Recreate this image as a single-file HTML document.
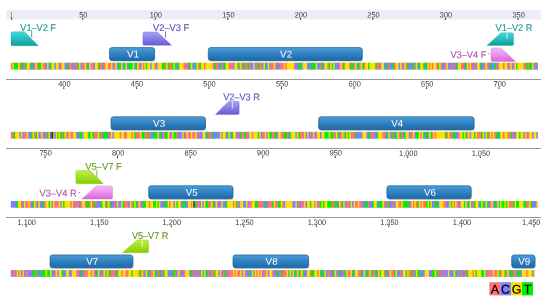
<!DOCTYPE html><html><head><meta charset="utf-8"><title>16S rRNA map</title><style>
html,body{margin:0;padding:0;background:#fff}body{width:550px;height:302px;overflow:hidden;position:relative;font-family:"Liberation Sans",sans-serif}
svg{position:absolute;left:0;top:0}text{font-family:"Liberation Sans",sans-serif;text-rendering:geometricPrecision}
.a{fill:#ff7373}.c{fill:#7f7fff}.g{fill:#ffe000}.t{fill:#00f000}.n{fill:#9a9a9a}
.r{font-size:7.9px;fill:#383838;text-anchor:middle}.f{font-size:9.8px;fill:#fff;text-anchor:middle}.p{font-size:9.7px;stroke-width:0.15px}
</style></head><body><svg width="550" height="302" viewBox="0 0 550 302">
<defs><linearGradient id="fb" x1="0" y1="0" x2="0" y2="1"><stop offset="0" stop-color="#4c9dd8"/><stop offset="0.5" stop-color="#3181c1"/><stop offset="1" stop-color="#1b69a6"/></linearGradient>
<linearGradient id="gt" x1="0" y1="0" x2="0" y2="1"><stop offset="0" stop-color="#44dada"/><stop offset="1" stop-color="#0c9e9e"/></linearGradient>
<linearGradient id="gp" x1="0" y1="0" x2="0" y2="1"><stop offset="0" stop-color="#a8a4f5"/><stop offset="1" stop-color="#665bd5"/></linearGradient>
<linearGradient id="gm" x1="0" y1="0" x2="0" y2="1"><stop offset="0" stop-color="#f6bcf6"/><stop offset="1" stop-color="#da68da"/></linearGradient>
<linearGradient id="gg" x1="0" y1="0" x2="0" y2="1"><stop offset="0" stop-color="#bcf04a"/><stop offset="1" stop-color="#88ce00"/></linearGradient>
<filter id="bl" x="-10%" y="-30%" width="120%" height="160%"><feGaussianBlur stdDeviation="0.7"/></filter></defs>
<rect x="6" y="10" width="535" height="9.5" fill="#ededf8"/>
<text class="r" x="11.2" y="17.4" textLength="4.1" lengthAdjust="spacingAndGlyphs" transform="rotate(0.03 11.6 17.4)" style="fill:#858585">1</text>
<rect x="11.1" y="18.1" width="1" height="1.8" fill="#2a2a2a"/>
<text class="r" x="83.3" y="17.4" textLength="8.2" lengthAdjust="spacingAndGlyphs" transform="rotate(0.03 82.7 17.4)">50</text>
<rect x="82.2" y="18.1" width="1" height="1.8" fill="#2a2a2a"/>
<text class="r" x="155.8" y="17.4" textLength="12.3" lengthAdjust="spacingAndGlyphs" transform="rotate(0.03 155.2 17.4)">100</text>
<rect x="154.7" y="18.1" width="1" height="1.8" fill="#2a2a2a"/>
<text class="r" x="228.4" y="17.4" textLength="12.3" lengthAdjust="spacingAndGlyphs" transform="rotate(0.03 227.8 17.4)">150</text>
<rect x="227.3" y="18.1" width="1" height="1.8" fill="#2a2a2a"/>
<text class="r" x="300.9" y="17.4" textLength="12.3" lengthAdjust="spacingAndGlyphs" transform="rotate(0.03 300.3 17.4)">200</text>
<rect x="299.8" y="18.1" width="1" height="1.8" fill="#2a2a2a"/>
<text class="r" x="373.5" y="17.4" textLength="12.3" lengthAdjust="spacingAndGlyphs" transform="rotate(0.03 372.9 17.4)">250</text>
<rect x="372.4" y="18.1" width="1" height="1.8" fill="#2a2a2a"/>
<text class="r" x="446.0" y="17.4" textLength="12.3" lengthAdjust="spacingAndGlyphs" transform="rotate(0.03 445.4 17.4)">300</text>
<rect x="444.9" y="18.1" width="1" height="1.8" fill="#2a2a2a"/>
<text class="r" x="518.6" y="17.4" textLength="12.3" lengthAdjust="spacingAndGlyphs" transform="rotate(0.03 518.0 17.4)">350</text>
<rect x="517.5" y="18.1" width="1" height="1.8" fill="#2a2a2a"/>
<rect class="a" x="10.80" y="62.8" width="2.95" height="6.7"/>
<rect class="g" x="12.25" y="62.8" width="2.95" height="6.7"/>
<rect class="t" x="13.70" y="62.8" width="5.86" height="6.7"/>
<rect class="g" x="18.06" y="62.8" width="2.95" height="6.7"/>
<rect class="a" x="19.51" y="62.8" width="2.95" height="6.7"/>
<rect class="t" x="20.96" y="62.8" width="2.95" height="6.7"/>
<rect class="c" x="22.42" y="62.8" width="2.95" height="6.7"/>
<rect class="a" x="23.87" y="62.8" width="2.95" height="6.7"/>
<rect class="t" x="25.32" y="62.8" width="2.95" height="6.7"/>
<rect class="g" x="26.77" y="62.8" width="4.40" height="6.7"/>
<rect class="c" x="29.68" y="62.8" width="2.95" height="6.7"/>
<rect class="t" x="31.13" y="62.8" width="2.95" height="6.7"/>
<rect class="c" x="32.58" y="62.8" width="2.95" height="6.7"/>
<rect class="a" x="34.03" y="62.8" width="2.95" height="6.7"/>
<rect class="g" x="35.48" y="62.8" width="2.95" height="6.7"/>
<rect class="a" x="36.94" y="62.8" width="2.95" height="6.7"/>
<rect class="t" x="38.39" y="62.8" width="4.40" height="6.7"/>
<rect class="g" x="41.29" y="62.8" width="2.95" height="6.7"/>
<rect class="a" x="42.74" y="62.8" width="4.40" height="6.7"/>
<rect class="c" x="45.65" y="62.8" width="2.95" height="6.7"/>
<rect class="g" x="47.10" y="62.8" width="2.95" height="6.7"/>
<rect class="c" x="48.55" y="62.8" width="2.95" height="6.7"/>
<rect class="t" x="50.00" y="62.8" width="2.95" height="6.7"/>
<rect class="g" x="51.46" y="62.8" width="4.40" height="6.7"/>
<rect class="c" x="54.36" y="62.8" width="2.95" height="6.7"/>
<rect class="g" x="55.81" y="62.8" width="4.40" height="6.7"/>
<rect class="c" x="58.72" y="62.8" width="2.95" height="6.7"/>
<rect class="a" x="60.17" y="62.8" width="2.95" height="6.7"/>
<rect class="g" x="61.62" y="62.8" width="4.40" height="6.7"/>
<rect class="c" x="64.52" y="62.8" width="4.40" height="6.7"/>
<rect class="t" x="67.43" y="62.8" width="2.95" height="6.7"/>
<rect class="a" x="68.88" y="62.8" width="4.40" height="6.7"/>
<rect class="c" x="71.78" y="62.8" width="2.95" height="6.7"/>
<rect class="a" x="73.24" y="62.8" width="2.95" height="6.7"/>
<rect class="c" x="74.69" y="62.8" width="2.95" height="6.7"/>
<rect class="a" x="76.14" y="62.8" width="2.95" height="6.7"/>
<rect class="t" x="77.59" y="62.8" width="2.95" height="6.7"/>
<rect class="g" x="79.04" y="62.8" width="2.95" height="6.7"/>
<rect class="c" x="80.50" y="62.8" width="2.95" height="6.7"/>
<rect class="a" x="81.95" y="62.8" width="4.40" height="6.7"/>
<rect class="g" x="84.85" y="62.8" width="2.95" height="6.7"/>
<rect class="t" x="86.30" y="62.8" width="2.95" height="6.7"/>
<rect class="c" x="87.76" y="62.8" width="2.95" height="6.7"/>
<rect class="g" x="89.21" y="62.8" width="2.95" height="6.7"/>
<rect class="a" x="90.66" y="62.8" width="4.40" height="6.7"/>
<rect class="c" x="93.56" y="62.8" width="2.95" height="6.7"/>
<rect class="g" x="95.02" y="62.8" width="4.40" height="6.7"/>
<rect class="t" x="97.92" y="62.8" width="2.95" height="6.7"/>
<rect class="a" x="99.37" y="62.8" width="4.40" height="6.7"/>
<rect class="c" x="102.28" y="62.8" width="2.95" height="6.7"/>
<rect class="a" x="103.73" y="62.8" width="2.95" height="6.7"/>
<rect class="g" x="105.18" y="62.8" width="4.40" height="6.7"/>
<rect class="a" x="108.08" y="62.8" width="4.40" height="6.7"/>
<rect class="g" x="110.99" y="62.8" width="2.95" height="6.7"/>
<rect class="c" x="112.44" y="62.8" width="2.95" height="6.7"/>
<rect class="a" x="113.89" y="62.8" width="2.95" height="6.7"/>
<rect class="g" x="115.34" y="62.8" width="2.95" height="6.7"/>
<rect class="c" x="116.80" y="62.8" width="2.95" height="6.7"/>
<rect class="t" x="118.25" y="62.8" width="4.40" height="6.7"/>
<rect class="g" x="121.15" y="62.8" width="2.95" height="6.7"/>
<rect class="c" x="122.60" y="62.8" width="2.95" height="6.7"/>
<rect class="t" x="124.06" y="62.8" width="2.95" height="6.7"/>
<rect class="g" x="125.51" y="62.8" width="2.95" height="6.7"/>
<rect class="c" x="126.96" y="62.8" width="2.95" height="6.7"/>
<rect class="t" x="128.41" y="62.8" width="5.86" height="6.7"/>
<rect class="g" x="132.77" y="62.8" width="2.95" height="6.7"/>
<rect class="c" x="134.22" y="62.8" width="2.95" height="6.7"/>
<rect class="t" x="135.67" y="62.8" width="2.95" height="6.7"/>
<rect class="g" x="137.12" y="62.8" width="2.95" height="6.7"/>
<rect class="a" x="138.58" y="62.8" width="2.95" height="6.7"/>
<rect class="c" x="140.03" y="62.8" width="2.95" height="6.7"/>
<rect class="g" x="141.48" y="62.8" width="2.95" height="6.7"/>
<rect class="a" x="142.93" y="62.8" width="2.95" height="6.7"/>
<rect class="g" x="144.38" y="62.8" width="2.95" height="6.7"/>
<rect class="t" x="145.84" y="62.8" width="2.95" height="6.7"/>
<rect class="g" x="147.29" y="62.8" width="4.40" height="6.7"/>
<rect class="c" x="150.19" y="62.8" width="2.95" height="6.7"/>
<rect class="g" x="151.64" y="62.8" width="4.40" height="6.7"/>
<rect class="a" x="154.55" y="62.8" width="2.95" height="6.7"/>
<rect class="c" x="156.00" y="62.8" width="2.95" height="6.7"/>
<rect class="g" x="157.45" y="62.8" width="5.86" height="6.7"/>
<rect class="t" x="161.81" y="62.8" width="4.40" height="6.7"/>
<rect class="a" x="164.71" y="62.8" width="2.95" height="6.7"/>
<rect class="g" x="166.16" y="62.8" width="2.95" height="6.7"/>
<rect class="t" x="167.62" y="62.8" width="2.95" height="6.7"/>
<rect class="a" x="169.07" y="62.8" width="4.40" height="6.7"/>
<rect class="t" x="171.97" y="62.8" width="2.95" height="6.7"/>
<rect class="g" x="173.42" y="62.8" width="2.95" height="6.7"/>
<rect class="t" x="174.88" y="62.8" width="2.95" height="6.7"/>
<rect class="c" x="176.33" y="62.8" width="2.95" height="6.7"/>
<rect class="t" x="177.78" y="62.8" width="2.95" height="6.7"/>
<rect class="g" x="179.23" y="62.8" width="5.86" height="6.7"/>
<rect class="a" x="183.59" y="62.8" width="5.86" height="6.7"/>
<rect class="c" x="187.94" y="62.8" width="2.95" height="6.7"/>
<rect class="t" x="189.40" y="62.8" width="2.95" height="6.7"/>
<rect class="g" x="190.85" y="62.8" width="2.95" height="6.7"/>
<rect class="c" x="192.30" y="62.8" width="4.40" height="6.7"/>
<rect class="t" x="195.20" y="62.8" width="2.95" height="6.7"/>
<rect class="g" x="196.66" y="62.8" width="2.95" height="6.7"/>
<rect class="a" x="198.11" y="62.8" width="2.95" height="6.7"/>
<rect class="t" x="199.56" y="62.8" width="2.95" height="6.7"/>
<rect class="g" x="201.01" y="62.8" width="4.40" height="6.7"/>
<rect class="a" x="203.92" y="62.8" width="2.95" height="6.7"/>
<rect class="g" x="205.37" y="62.8" width="8.76" height="6.7"/>
<rect class="a" x="212.63" y="62.8" width="2.95" height="6.7"/>
<rect class="t" x="214.08" y="62.8" width="2.95" height="6.7"/>
<rect class="a" x="215.53" y="62.8" width="4.40" height="6.7"/>
<rect class="c" x="218.44" y="62.8" width="2.95" height="6.7"/>
<rect class="t" x="219.89" y="62.8" width="2.95" height="6.7"/>
<rect class="a" x="221.34" y="62.8" width="2.95" height="6.7"/>
<rect class="c" x="222.79" y="62.8" width="2.95" height="6.7"/>
<rect class="t" x="224.24" y="62.8" width="2.95" height="6.7"/>
<rect class="g" x="225.70" y="62.8" width="4.40" height="6.7"/>
<rect class="a" x="228.60" y="62.8" width="5.86" height="6.7"/>
<rect class="c" x="232.96" y="62.8" width="2.95" height="6.7"/>
<rect class="g" x="234.41" y="62.8" width="4.40" height="6.7"/>
<rect class="t" x="237.31" y="62.8" width="2.95" height="6.7"/>
<rect class="a" x="238.76" y="62.8" width="2.95" height="6.7"/>
<rect class="g" x="240.22" y="62.8" width="2.95" height="6.7"/>
<rect class="c" x="241.67" y="62.8" width="2.95" height="6.7"/>
<rect class="t" x="243.12" y="62.8" width="2.95" height="6.7"/>
<rect class="a" x="244.57" y="62.8" width="4.40" height="6.7"/>
<rect class="t" x="247.48" y="62.8" width="2.95" height="6.7"/>
<rect class="a" x="248.93" y="62.8" width="2.95" height="6.7"/>
<rect class="c" x="250.38" y="62.8" width="4.40" height="6.7"/>
<rect class="g" x="253.28" y="62.8" width="2.95" height="6.7"/>
<rect class="c" x="254.74" y="62.8" width="2.95" height="6.7"/>
<rect class="a" x="256.19" y="62.8" width="2.95" height="6.7"/>
<rect class="t" x="257.64" y="62.8" width="2.95" height="6.7"/>
<rect class="a" x="259.09" y="62.8" width="4.40" height="6.7"/>
<rect class="c" x="262.00" y="62.8" width="2.95" height="6.7"/>
<rect class="g" x="263.45" y="62.8" width="2.95" height="6.7"/>
<rect class="t" x="264.90" y="62.8" width="2.95" height="6.7"/>
<rect class="c" x="266.35" y="62.8" width="2.95" height="6.7"/>
<rect class="g" x="267.80" y="62.8" width="2.95" height="6.7"/>
<rect class="c" x="269.26" y="62.8" width="2.95" height="6.7"/>
<rect class="a" x="270.71" y="62.8" width="4.40" height="6.7"/>
<rect class="g" x="273.61" y="62.8" width="2.95" height="6.7"/>
<rect class="a" x="275.06" y="62.8" width="2.95" height="6.7"/>
<rect class="c" x="276.52" y="62.8" width="4.40" height="6.7"/>
<rect class="a" x="279.42" y="62.8" width="5.86" height="6.7"/>
<rect class="g" x="283.78" y="62.8" width="2.95" height="6.7"/>
<rect class="a" x="285.23" y="62.8" width="2.95" height="6.7"/>
<rect class="g" x="286.68" y="62.8" width="8.76" height="6.7"/>
<rect class="a" x="293.94" y="62.8" width="2.95" height="6.7"/>
<rect class="c" x="295.39" y="62.8" width="4.40" height="6.7"/>
<rect class="t" x="298.30" y="62.8" width="4.40" height="6.7"/>
<rect class="c" x="301.20" y="62.8" width="2.95" height="6.7"/>
<rect class="g" x="302.65" y="62.8" width="5.86" height="6.7"/>
<rect class="c" x="307.01" y="62.8" width="4.40" height="6.7"/>
<rect class="t" x="309.91" y="62.8" width="2.95" height="6.7"/>
<rect class="c" x="311.36" y="62.8" width="2.95" height="6.7"/>
<rect class="t" x="312.82" y="62.8" width="4.40" height="6.7"/>
<rect class="g" x="315.72" y="62.8" width="2.95" height="6.7"/>
<rect class="c" x="317.17" y="62.8" width="4.40" height="6.7"/>
<rect class="a" x="320.08" y="62.8" width="2.95" height="6.7"/>
<rect class="t" x="321.53" y="62.8" width="2.95" height="6.7"/>
<rect class="c" x="322.98" y="62.8" width="2.95" height="6.7"/>
<rect class="g" x="324.43" y="62.8" width="4.40" height="6.7"/>
<rect class="a" x="327.34" y="62.8" width="2.95" height="6.7"/>
<rect class="t" x="328.79" y="62.8" width="2.95" height="6.7"/>
<rect class="g" x="330.24" y="62.8" width="2.95" height="6.7"/>
<rect class="t" x="331.69" y="62.8" width="2.95" height="6.7"/>
<rect class="g" x="333.14" y="62.8" width="2.95" height="6.7"/>
<rect class="c" x="334.60" y="62.8" width="5.86" height="6.7"/>
<rect class="a" x="338.95" y="62.8" width="2.95" height="6.7"/>
<rect class="g" x="340.40" y="62.8" width="2.95" height="6.7"/>
<rect class="a" x="341.86" y="62.8" width="2.95" height="6.7"/>
<rect class="t" x="343.31" y="62.8" width="2.95" height="6.7"/>
<rect class="g" x="344.76" y="62.8" width="5.86" height="6.7"/>
<rect class="a" x="349.12" y="62.8" width="2.95" height="6.7"/>
<rect class="t" x="350.57" y="62.8" width="4.40" height="6.7"/>
<rect class="a" x="353.47" y="62.8" width="2.95" height="6.7"/>
<rect class="g" x="354.92" y="62.8" width="2.95" height="6.7"/>
<rect class="c" x="356.38" y="62.8" width="2.95" height="6.7"/>
<rect class="t" x="357.83" y="62.8" width="2.95" height="6.7"/>
<rect class="a" x="359.28" y="62.8" width="2.95" height="6.7"/>
<rect class="g" x="360.73" y="62.8" width="2.95" height="6.7"/>
<rect class="t" x="362.18" y="62.8" width="2.95" height="6.7"/>
<rect class="a" x="363.64" y="62.8" width="2.95" height="6.7"/>
<rect class="g" x="365.09" y="62.8" width="4.40" height="6.7"/>
<rect class="t" x="367.99" y="62.8" width="2.95" height="6.7"/>
<rect class="g" x="369.44" y="62.8" width="7.31" height="6.7"/>
<rect class="t" x="375.25" y="62.8" width="2.95" height="6.7"/>
<rect class="a" x="376.70" y="62.8" width="4.40" height="6.7"/>
<rect class="c" x="379.61" y="62.8" width="2.95" height="6.7"/>
<rect class="g" x="381.06" y="62.8" width="4.40" height="6.7"/>
<rect class="c" x="383.96" y="62.8" width="2.95" height="6.7"/>
<rect class="t" x="385.42" y="62.8" width="2.95" height="6.7"/>
<rect class="c" x="386.87" y="62.8" width="2.95" height="6.7"/>
<rect class="a" x="388.32" y="62.8" width="2.95" height="6.7"/>
<rect class="c" x="389.77" y="62.8" width="4.40" height="6.7"/>
<rect class="t" x="392.68" y="62.8" width="2.95" height="6.7"/>
<rect class="a" x="394.13" y="62.8" width="2.95" height="6.7"/>
<rect class="g" x="395.58" y="62.8" width="4.40" height="6.7"/>
<rect class="c" x="398.48" y="62.8" width="2.95" height="6.7"/>
<rect class="g" x="399.94" y="62.8" width="2.95" height="6.7"/>
<rect class="a" x="401.39" y="62.8" width="2.95" height="6.7"/>
<rect class="c" x="402.84" y="62.8" width="2.95" height="6.7"/>
<rect class="g" x="404.29" y="62.8" width="2.95" height="6.7"/>
<rect class="a" x="405.74" y="62.8" width="2.95" height="6.7"/>
<rect class="t" x="407.20" y="62.8" width="2.95" height="6.7"/>
<rect class="c" x="408.65" y="62.8" width="5.86" height="6.7"/>
<rect class="t" x="413.00" y="62.8" width="2.95" height="6.7"/>
<rect class="a" x="414.46" y="62.8" width="2.95" height="6.7"/>
<rect class="g" x="415.91" y="62.8" width="2.95" height="6.7"/>
<rect class="c" x="417.36" y="62.8" width="2.95" height="6.7"/>
<rect class="t" x="418.81" y="62.8" width="2.95" height="6.7"/>
<rect class="g" x="420.26" y="62.8" width="4.40" height="6.7"/>
<rect class="t" x="423.17" y="62.8" width="2.95" height="6.7"/>
<rect class="c" x="424.62" y="62.8" width="2.95" height="6.7"/>
<rect class="t" x="426.07" y="62.8" width="2.95" height="6.7"/>
<rect class="g" x="427.52" y="62.8" width="2.95" height="6.7"/>
<rect class="a" x="428.98" y="62.8" width="2.95" height="6.7"/>
<rect class="g" x="430.43" y="62.8" width="2.95" height="6.7"/>
<rect class="a" x="431.88" y="62.8" width="2.95" height="6.7"/>
<rect class="g" x="433.33" y="62.8" width="4.40" height="6.7"/>
<rect class="a" x="436.24" y="62.8" width="2.95" height="6.7"/>
<rect class="t" x="437.69" y="62.8" width="2.95" height="6.7"/>
<rect class="g" x="439.14" y="62.8" width="2.95" height="6.7"/>
<rect class="a" x="440.59" y="62.8" width="2.95" height="6.7"/>
<rect class="c" x="442.04" y="62.8" width="4.40" height="6.7"/>
<rect class="a" x="444.95" y="62.8" width="2.95" height="6.7"/>
<rect class="g" x="446.40" y="62.8" width="2.95" height="6.7"/>
<rect class="c" x="447.85" y="62.8" width="4.40" height="6.7"/>
<rect class="a" x="450.76" y="62.8" width="2.95" height="6.7"/>
<rect class="c" x="452.21" y="62.8" width="2.95" height="6.7"/>
<rect class="a" x="453.66" y="62.8" width="2.95" height="6.7"/>
<rect class="c" x="455.11" y="62.8" width="2.95" height="6.7"/>
<rect class="t" x="456.56" y="62.8" width="2.95" height="6.7"/>
<rect class="g" x="458.02" y="62.8" width="4.40" height="6.7"/>
<rect class="a" x="460.92" y="62.8" width="4.40" height="6.7"/>
<rect class="c" x="463.82" y="62.8" width="2.95" height="6.7"/>
<rect class="t" x="465.28" y="62.8" width="2.95" height="6.7"/>
<rect class="g" x="466.73" y="62.8" width="2.95" height="6.7"/>
<rect class="a" x="468.18" y="62.8" width="2.95" height="6.7"/>
<rect class="g" x="469.63" y="62.8" width="2.95" height="6.7"/>
<rect class="a" x="471.08" y="62.8" width="2.95" height="6.7"/>
<rect class="c" x="472.54" y="62.8" width="2.95" height="6.7"/>
<rect class="a" x="473.99" y="62.8" width="2.95" height="6.7"/>
<rect class="c" x="475.44" y="62.8" width="2.95" height="6.7"/>
<rect class="g" x="476.89" y="62.8" width="4.40" height="6.7"/>
<rect class="t" x="479.80" y="62.8" width="2.95" height="6.7"/>
<rect class="c" x="481.25" y="62.8" width="4.40" height="6.7"/>
<rect class="a" x="484.15" y="62.8" width="2.95" height="6.7"/>
<rect class="g" x="485.60" y="62.8" width="2.95" height="6.7"/>
<rect class="a" x="487.06" y="62.8" width="2.95" height="6.7"/>
<rect class="c" x="488.51" y="62.8" width="2.95" height="6.7"/>
<rect class="t" x="489.96" y="62.8" width="2.95" height="6.7"/>
<rect class="c" x="491.41" y="62.8" width="4.40" height="6.7"/>
<rect class="t" x="494.32" y="62.8" width="2.95" height="6.7"/>
<rect class="a" x="495.77" y="62.8" width="2.95" height="6.7"/>
<rect class="c" x="497.22" y="62.8" width="2.95" height="6.7"/>
<rect class="g" x="498.67" y="62.8" width="5.86" height="6.7"/>
<rect class="a" x="503.03" y="62.8" width="2.95" height="6.7"/>
<rect class="g" x="504.48" y="62.8" width="4.40" height="6.7"/>
<rect class="c" x="507.38" y="62.8" width="2.95" height="6.7"/>
<rect class="a" x="508.84" y="62.8" width="2.95" height="6.7"/>
<rect class="g" x="510.29" y="62.8" width="2.95" height="6.7"/>
<rect class="c" x="511.74" y="62.8" width="2.95" height="6.7"/>
<rect class="a" x="513.19" y="62.8" width="2.95" height="6.7"/>
<rect class="g" x="514.64" y="62.8" width="2.95" height="6.7"/>
<rect class="t" x="516.10" y="62.8" width="2.95" height="6.7"/>
<rect class="g" x="517.55" y="62.8" width="7.31" height="6.7"/>
<rect class="a" x="523.36" y="62.8" width="4.40" height="6.7"/>
<rect class="t" x="526.26" y="62.8" width="2.95" height="6.7"/>
<rect class="a" x="527.71" y="62.8" width="2.95" height="6.7"/>
<rect class="t" x="529.16" y="62.8" width="4.40" height="6.7"/>
<rect class="g" x="532.07" y="62.8" width="2.95" height="6.7"/>
<rect class="c" x="533.52" y="62.8" width="2.95" height="6.7"/>
<rect class="a" x="534.97" y="62.8" width="2.90" height="6.7"/>
<rect class="c" x="536.42" y="62.8" width="1.45" height="6.7"/>
<rect x="6" y="79.00" width="535" height="0.85" fill="#868686"/>
<text class="r" x="64.4" y="86.5" textLength="12.3" lengthAdjust="spacingAndGlyphs" transform="rotate(0.03 63.8 86.5)">400</text>
<rect x="63.3" y="87.2" width="1" height="1.8" fill="#2a2a2a"/>
<text class="r" x="137.0" y="86.5" textLength="12.3" lengthAdjust="spacingAndGlyphs" transform="rotate(0.03 136.4 86.5)">450</text>
<rect x="135.9" y="87.2" width="1" height="1.8" fill="#2a2a2a"/>
<text class="r" x="209.5" y="86.5" textLength="12.3" lengthAdjust="spacingAndGlyphs" transform="rotate(0.03 208.9 86.5)">500</text>
<rect x="208.4" y="87.2" width="1" height="1.8" fill="#2a2a2a"/>
<text class="r" x="282.1" y="86.5" textLength="12.3" lengthAdjust="spacingAndGlyphs" transform="rotate(0.03 281.5 86.5)">550</text>
<rect x="281.0" y="87.2" width="1" height="1.8" fill="#2a2a2a"/>
<text class="r" x="354.6" y="86.5" textLength="12.3" lengthAdjust="spacingAndGlyphs" transform="rotate(0.03 354.0 86.5)">600</text>
<rect x="353.5" y="87.2" width="1" height="1.8" fill="#2a2a2a"/>
<text class="r" x="427.2" y="86.5" textLength="12.3" lengthAdjust="spacingAndGlyphs" transform="rotate(0.03 426.6 86.5)">650</text>
<rect x="426.1" y="87.2" width="1" height="1.8" fill="#2a2a2a"/>
<text class="r" x="499.7" y="86.5" textLength="12.3" lengthAdjust="spacingAndGlyphs" transform="rotate(0.03 499.1 86.5)">700</text>
<rect x="498.6" y="87.2" width="1" height="1.8" fill="#2a2a2a"/>
<rect class="a" x="10.80" y="131.9" width="4.40" height="6.7"/>
<rect class="t" x="13.70" y="131.9" width="2.95" height="6.7"/>
<rect class="g" x="15.16" y="131.9" width="5.86" height="6.7"/>
<rect class="c" x="19.51" y="131.9" width="2.95" height="6.7"/>
<rect class="g" x="20.96" y="131.9" width="2.95" height="6.7"/>
<rect class="c" x="22.42" y="131.9" width="2.95" height="6.7"/>
<rect class="a" x="23.87" y="131.9" width="4.40" height="6.7"/>
<rect class="g" x="26.77" y="131.9" width="2.95" height="6.7"/>
<rect class="c" x="28.22" y="131.9" width="4.40" height="6.7"/>
<rect class="t" x="31.13" y="131.9" width="2.95" height="6.7"/>
<rect class="g" x="32.58" y="131.9" width="2.95" height="6.7"/>
<rect class="a" x="34.03" y="131.9" width="2.95" height="6.7"/>
<rect class="t" x="35.48" y="131.9" width="2.95" height="6.7"/>
<rect class="g" x="36.94" y="131.9" width="2.95" height="6.7"/>
<rect class="c" x="38.39" y="131.9" width="2.95" height="6.7"/>
<rect class="a" x="39.84" y="131.9" width="2.95" height="6.7"/>
<rect class="g" x="41.29" y="131.9" width="2.95" height="6.7"/>
<rect class="c" x="42.74" y="131.9" width="4.40" height="6.7"/>
<rect class="a" x="45.65" y="131.9" width="2.95" height="6.7"/>
<rect class="t" x="47.10" y="131.9" width="2.95" height="6.7"/>
<rect class="g" x="48.55" y="131.9" width="2.95" height="6.7"/>
<rect class="c" x="50.00" y="131.9" width="4.40" height="6.7"/>
<rect class="g" x="52.91" y="131.9" width="2.95" height="6.7"/>
<rect class="c" x="54.36" y="131.9" width="2.95" height="6.7"/>
<rect class="g" x="55.81" y="131.9" width="2.95" height="6.7"/>
<rect class="t" x="57.26" y="131.9" width="2.95" height="6.7"/>
<rect class="g" x="58.72" y="131.9" width="2.95" height="6.7"/>
<rect class="t" x="60.17" y="131.9" width="2.95" height="6.7"/>
<rect class="a" x="61.62" y="131.9" width="2.95" height="6.7"/>
<rect class="t" x="63.07" y="131.9" width="2.95" height="6.7"/>
<rect class="g" x="64.52" y="131.9" width="2.95" height="6.7"/>
<rect class="a" x="65.98" y="131.9" width="4.40" height="6.7"/>
<rect class="g" x="68.88" y="131.9" width="2.95" height="6.7"/>
<rect class="a" x="70.33" y="131.9" width="4.40" height="6.7"/>
<rect class="g" x="73.24" y="131.9" width="4.40" height="6.7"/>
<rect class="c" x="76.14" y="131.9" width="4.40" height="6.7"/>
<rect class="t" x="79.04" y="131.9" width="4.40" height="6.7"/>
<rect class="c" x="81.95" y="131.9" width="2.95" height="6.7"/>
<rect class="g" x="83.40" y="131.9" width="5.86" height="6.7"/>
<rect class="t" x="87.76" y="131.9" width="4.40" height="6.7"/>
<rect class="g" x="90.66" y="131.9" width="2.95" height="6.7"/>
<rect class="t" x="92.11" y="131.9" width="2.95" height="6.7"/>
<rect class="a" x="93.56" y="131.9" width="5.86" height="6.7"/>
<rect class="g" x="97.92" y="131.9" width="2.95" height="6.7"/>
<rect class="t" x="99.37" y="131.9" width="2.95" height="6.7"/>
<rect class="a" x="100.82" y="131.9" width="2.95" height="6.7"/>
<rect class="c" x="102.28" y="131.9" width="2.95" height="6.7"/>
<rect class="t" x="103.73" y="131.9" width="5.86" height="6.7"/>
<rect class="c" x="108.08" y="131.9" width="2.95" height="6.7"/>
<rect class="a" x="109.54" y="131.9" width="2.95" height="6.7"/>
<rect class="g" x="110.99" y="131.9" width="2.95" height="6.7"/>
<rect class="c" x="112.44" y="131.9" width="2.95" height="6.7"/>
<rect class="g" x="113.89" y="131.9" width="7.31" height="6.7"/>
<rect class="a" x="119.70" y="131.9" width="2.95" height="6.7"/>
<rect class="g" x="121.15" y="131.9" width="4.40" height="6.7"/>
<rect class="a" x="124.06" y="131.9" width="4.40" height="6.7"/>
<rect class="g" x="126.96" y="131.9" width="5.86" height="6.7"/>
<rect class="a" x="131.32" y="131.9" width="2.95" height="6.7"/>
<rect class="g" x="132.77" y="131.9" width="2.95" height="6.7"/>
<rect class="t" x="134.22" y="131.9" width="2.95" height="6.7"/>
<rect class="a" x="135.67" y="131.9" width="5.86" height="6.7"/>
<rect class="g" x="140.03" y="131.9" width="2.95" height="6.7"/>
<rect class="t" x="141.48" y="131.9" width="4.40" height="6.7"/>
<rect class="a" x="144.38" y="131.9" width="4.40" height="6.7"/>
<rect class="t" x="147.29" y="131.9" width="2.95" height="6.7"/>
<rect class="a" x="148.74" y="131.9" width="2.95" height="6.7"/>
<rect class="c" x="150.19" y="131.9" width="4.40" height="6.7"/>
<rect class="t" x="153.10" y="131.9" width="5.86" height="6.7"/>
<rect class="g" x="157.45" y="131.9" width="2.95" height="6.7"/>
<rect class="c" x="158.90" y="131.9" width="2.95" height="6.7"/>
<rect class="t" x="160.36" y="131.9" width="2.95" height="6.7"/>
<rect class="c" x="161.81" y="131.9" width="2.95" height="6.7"/>
<rect class="a" x="163.26" y="131.9" width="2.95" height="6.7"/>
<rect class="t" x="164.71" y="131.9" width="4.40" height="6.7"/>
<rect class="g" x="167.62" y="131.9" width="2.95" height="6.7"/>
<rect class="a" x="169.07" y="131.9" width="2.95" height="6.7"/>
<rect class="c" x="170.52" y="131.9" width="2.95" height="6.7"/>
<rect class="g" x="171.97" y="131.9" width="2.95" height="6.7"/>
<rect class="t" x="173.42" y="131.9" width="4.40" height="6.7"/>
<rect class="a" x="176.33" y="131.9" width="2.95" height="6.7"/>
<rect class="c" x="177.78" y="131.9" width="5.86" height="6.7"/>
<rect class="g" x="182.14" y="131.9" width="2.95" height="6.7"/>
<rect class="c" x="183.59" y="131.9" width="2.95" height="6.7"/>
<rect class="a" x="185.04" y="131.9" width="2.95" height="6.7"/>
<rect class="g" x="186.49" y="131.9" width="2.95" height="6.7"/>
<rect class="a" x="187.94" y="131.9" width="4.40" height="6.7"/>
<rect class="g" x="190.85" y="131.9" width="2.95" height="6.7"/>
<rect class="a" x="192.30" y="131.9" width="4.40" height="6.7"/>
<rect class="g" x="195.20" y="131.9" width="2.95" height="6.7"/>
<rect class="c" x="196.66" y="131.9" width="2.95" height="6.7"/>
<rect class="a" x="198.11" y="131.9" width="2.95" height="6.7"/>
<rect class="c" x="199.56" y="131.9" width="4.40" height="6.7"/>
<rect class="g" x="202.46" y="131.9" width="4.40" height="6.7"/>
<rect class="c" x="205.37" y="131.9" width="2.95" height="6.7"/>
<rect class="t" x="206.82" y="131.9" width="2.95" height="6.7"/>
<rect class="a" x="208.27" y="131.9" width="4.40" height="6.7"/>
<rect class="c" x="211.18" y="131.9" width="2.95" height="6.7"/>
<rect class="t" x="212.63" y="131.9" width="2.95" height="6.7"/>
<rect class="c" x="214.08" y="131.9" width="7.31" height="6.7"/>
<rect class="g" x="219.89" y="131.9" width="2.95" height="6.7"/>
<rect class="n" x="221.34" y="131.9" width="2.95" height="6.7"/>
<rect class="g" x="222.79" y="131.9" width="4.40" height="6.7"/>
<rect class="c" x="225.70" y="131.9" width="2.95" height="6.7"/>
<rect class="t" x="227.15" y="131.9" width="2.95" height="6.7"/>
<rect class="g" x="228.60" y="131.9" width="2.95" height="6.7"/>
<rect class="c" x="230.05" y="131.9" width="2.95" height="6.7"/>
<rect class="t" x="231.50" y="131.9" width="2.95" height="6.7"/>
<rect class="g" x="232.96" y="131.9" width="4.40" height="6.7"/>
<rect class="c" x="235.86" y="131.9" width="2.95" height="6.7"/>
<rect class="a" x="237.31" y="131.9" width="2.95" height="6.7"/>
<rect class="c" x="238.76" y="131.9" width="2.95" height="6.7"/>
<rect class="t" x="240.22" y="131.9" width="2.95" height="6.7"/>
<rect class="a" x="241.67" y="131.9" width="4.40" height="6.7"/>
<rect class="t" x="244.57" y="131.9" width="2.95" height="6.7"/>
<rect class="a" x="246.02" y="131.9" width="2.95" height="6.7"/>
<rect class="c" x="247.48" y="131.9" width="2.95" height="6.7"/>
<rect class="g" x="248.93" y="131.9" width="4.40" height="6.7"/>
<rect class="a" x="251.83" y="131.9" width="2.95" height="6.7"/>
<rect class="g" x="253.28" y="131.9" width="5.86" height="6.7"/>
<rect class="t" x="257.64" y="131.9" width="2.95" height="6.7"/>
<rect class="g" x="259.09" y="131.9" width="2.95" height="6.7"/>
<rect class="c" x="260.54" y="131.9" width="2.95" height="6.7"/>
<rect class="a" x="262.00" y="131.9" width="4.40" height="6.7"/>
<rect class="g" x="264.90" y="131.9" width="2.95" height="6.7"/>
<rect class="c" x="266.35" y="131.9" width="2.95" height="6.7"/>
<rect class="g" x="267.80" y="131.9" width="2.95" height="6.7"/>
<rect class="t" x="269.26" y="131.9" width="4.40" height="6.7"/>
<rect class="a" x="272.16" y="131.9" width="4.40" height="6.7"/>
<rect class="t" x="275.06" y="131.9" width="2.95" height="6.7"/>
<rect class="c" x="276.52" y="131.9" width="2.95" height="6.7"/>
<rect class="g" x="277.97" y="131.9" width="4.40" height="6.7"/>
<rect class="a" x="280.87" y="131.9" width="4.40" height="6.7"/>
<rect class="t" x="283.78" y="131.9" width="4.40" height="6.7"/>
<rect class="a" x="286.68" y="131.9" width="2.95" height="6.7"/>
<rect class="c" x="288.13" y="131.9" width="2.95" height="6.7"/>
<rect class="t" x="289.58" y="131.9" width="2.95" height="6.7"/>
<rect class="g" x="291.04" y="131.9" width="5.86" height="6.7"/>
<rect class="c" x="295.39" y="131.9" width="2.95" height="6.7"/>
<rect class="g" x="296.84" y="131.9" width="2.95" height="6.7"/>
<rect class="t" x="298.30" y="131.9" width="2.95" height="6.7"/>
<rect class="a" x="299.75" y="131.9" width="5.86" height="6.7"/>
<rect class="g" x="304.10" y="131.9" width="2.95" height="6.7"/>
<rect class="c" x="305.56" y="131.9" width="2.95" height="6.7"/>
<rect class="g" x="307.01" y="131.9" width="2.95" height="6.7"/>
<rect class="c" x="308.46" y="131.9" width="2.95" height="6.7"/>
<rect class="a" x="309.91" y="131.9" width="2.95" height="6.7"/>
<rect class="c" x="311.36" y="131.9" width="2.95" height="6.7"/>
<rect class="g" x="312.82" y="131.9" width="2.95" height="6.7"/>
<rect class="c" x="314.27" y="131.9" width="2.95" height="6.7"/>
<rect class="a" x="315.72" y="131.9" width="2.95" height="6.7"/>
<rect class="g" x="317.17" y="131.9" width="4.40" height="6.7"/>
<rect class="c" x="320.08" y="131.9" width="2.95" height="6.7"/>
<rect class="g" x="321.53" y="131.9" width="4.40" height="6.7"/>
<rect class="t" x="324.43" y="131.9" width="5.86" height="6.7"/>
<rect class="g" x="328.79" y="131.9" width="2.95" height="6.7"/>
<rect class="t" x="330.24" y="131.9" width="4.40" height="6.7"/>
<rect class="a" x="333.14" y="131.9" width="4.40" height="6.7"/>
<rect class="g" x="336.05" y="131.9" width="2.95" height="6.7"/>
<rect class="t" x="337.50" y="131.9" width="2.95" height="6.7"/>
<rect class="c" x="338.95" y="131.9" width="2.95" height="6.7"/>
<rect class="a" x="340.40" y="131.9" width="2.95" height="6.7"/>
<rect class="g" x="341.86" y="131.9" width="2.95" height="6.7"/>
<rect class="a" x="343.31" y="131.9" width="2.95" height="6.7"/>
<rect class="t" x="344.76" y="131.9" width="2.95" height="6.7"/>
<rect class="g" x="346.21" y="131.9" width="2.95" height="6.7"/>
<rect class="t" x="347.66" y="131.9" width="2.95" height="6.7"/>
<rect class="g" x="349.12" y="131.9" width="2.95" height="6.7"/>
<rect class="a" x="350.57" y="131.9" width="5.86" height="6.7"/>
<rect class="t" x="354.92" y="131.9" width="2.95" height="6.7"/>
<rect class="c" x="356.38" y="131.9" width="7.31" height="6.7"/>
<rect class="g" x="362.18" y="131.9" width="5.86" height="6.7"/>
<rect class="c" x="366.54" y="131.9" width="2.95" height="6.7"/>
<rect class="t" x="367.99" y="131.9" width="2.95" height="6.7"/>
<rect class="c" x="369.44" y="131.9" width="2.95" height="6.7"/>
<rect class="a" x="370.90" y="131.9" width="4.40" height="6.7"/>
<rect class="c" x="373.80" y="131.9" width="4.40" height="6.7"/>
<rect class="t" x="376.70" y="131.9" width="2.95" height="6.7"/>
<rect class="g" x="378.16" y="131.9" width="5.86" height="6.7"/>
<rect class="a" x="382.51" y="131.9" width="4.40" height="6.7"/>
<rect class="c" x="385.42" y="131.9" width="2.95" height="6.7"/>
<rect class="t" x="386.87" y="131.9" width="2.95" height="6.7"/>
<rect class="g" x="388.32" y="131.9" width="2.95" height="6.7"/>
<rect class="c" x="389.77" y="131.9" width="2.95" height="6.7"/>
<rect class="a" x="391.22" y="131.9" width="2.95" height="6.7"/>
<rect class="t" x="392.68" y="131.9" width="2.95" height="6.7"/>
<rect class="c" x="394.13" y="131.9" width="2.95" height="6.7"/>
<rect class="t" x="395.58" y="131.9" width="2.95" height="6.7"/>
<rect class="g" x="397.03" y="131.9" width="2.95" height="6.7"/>
<rect class="a" x="398.48" y="131.9" width="2.95" height="6.7"/>
<rect class="t" x="399.94" y="131.9" width="2.95" height="6.7"/>
<rect class="a" x="401.39" y="131.9" width="2.95" height="6.7"/>
<rect class="c" x="402.84" y="131.9" width="2.95" height="6.7"/>
<rect class="t" x="404.29" y="131.9" width="2.95" height="6.7"/>
<rect class="g" x="405.74" y="131.9" width="4.40" height="6.7"/>
<rect class="c" x="408.65" y="131.9" width="2.95" height="6.7"/>
<rect class="a" x="410.10" y="131.9" width="4.40" height="6.7"/>
<rect class="g" x="413.00" y="131.9" width="2.95" height="6.7"/>
<rect class="c" x="414.46" y="131.9" width="2.95" height="6.7"/>
<rect class="t" x="415.91" y="131.9" width="4.40" height="6.7"/>
<rect class="g" x="418.81" y="131.9" width="2.95" height="6.7"/>
<rect class="a" x="420.26" y="131.9" width="2.95" height="6.7"/>
<rect class="g" x="421.72" y="131.9" width="2.95" height="6.7"/>
<rect class="t" x="423.17" y="131.9" width="2.95" height="6.7"/>
<rect class="c" x="424.62" y="131.9" width="2.95" height="6.7"/>
<rect class="t" x="426.07" y="131.9" width="2.95" height="6.7"/>
<rect class="c" x="427.52" y="131.9" width="2.95" height="6.7"/>
<rect class="g" x="428.98" y="131.9" width="2.95" height="6.7"/>
<rect class="t" x="430.43" y="131.9" width="2.95" height="6.7"/>
<rect class="a" x="431.88" y="131.9" width="2.95" height="6.7"/>
<rect class="g" x="433.33" y="131.9" width="2.95" height="6.7"/>
<rect class="a" x="434.78" y="131.9" width="2.95" height="6.7"/>
<rect class="g" x="436.24" y="131.9" width="10.21" height="6.7"/>
<rect class="t" x="444.95" y="131.9" width="2.95" height="6.7"/>
<rect class="a" x="446.40" y="131.9" width="2.95" height="6.7"/>
<rect class="g" x="447.85" y="131.9" width="2.95" height="6.7"/>
<rect class="a" x="449.30" y="131.9" width="4.40" height="6.7"/>
<rect class="t" x="452.21" y="131.9" width="4.40" height="6.7"/>
<rect class="c" x="455.11" y="131.9" width="4.40" height="6.7"/>
<rect class="a" x="458.02" y="131.9" width="2.95" height="6.7"/>
<rect class="g" x="459.47" y="131.9" width="4.40" height="6.7"/>
<rect class="t" x="462.37" y="131.9" width="2.95" height="6.7"/>
<rect class="g" x="463.82" y="131.9" width="2.95" height="6.7"/>
<rect class="t" x="465.28" y="131.9" width="2.95" height="6.7"/>
<rect class="a" x="466.73" y="131.9" width="2.95" height="6.7"/>
<rect class="g" x="468.18" y="131.9" width="2.95" height="6.7"/>
<rect class="c" x="469.63" y="131.9" width="2.95" height="6.7"/>
<rect class="g" x="471.08" y="131.9" width="4.40" height="6.7"/>
<rect class="t" x="473.99" y="131.9" width="2.95" height="6.7"/>
<rect class="g" x="475.44" y="131.9" width="2.95" height="6.7"/>
<rect class="a" x="476.89" y="131.9" width="5.86" height="6.7"/>
<rect class="t" x="481.25" y="131.9" width="2.95" height="6.7"/>
<rect class="g" x="482.70" y="131.9" width="2.95" height="6.7"/>
<rect class="c" x="484.15" y="131.9" width="2.95" height="6.7"/>
<rect class="g" x="485.60" y="131.9" width="2.95" height="6.7"/>
<rect class="t" x="487.06" y="131.9" width="2.95" height="6.7"/>
<rect class="a" x="488.51" y="131.9" width="2.95" height="6.7"/>
<rect class="g" x="489.96" y="131.9" width="2.95" height="6.7"/>
<rect class="a" x="491.41" y="131.9" width="2.95" height="6.7"/>
<rect class="g" x="492.86" y="131.9" width="2.95" height="6.7"/>
<rect class="a" x="494.32" y="131.9" width="2.95" height="6.7"/>
<rect class="t" x="495.77" y="131.9" width="2.95" height="6.7"/>
<rect class="c" x="497.22" y="131.9" width="2.95" height="6.7"/>
<rect class="t" x="498.67" y="131.9" width="2.95" height="6.7"/>
<rect class="g" x="500.12" y="131.9" width="4.40" height="6.7"/>
<rect class="a" x="503.03" y="131.9" width="2.95" height="6.7"/>
<rect class="g" x="504.48" y="131.9" width="4.40" height="6.7"/>
<rect class="a" x="507.38" y="131.9" width="4.40" height="6.7"/>
<rect class="t" x="510.29" y="131.9" width="2.95" height="6.7"/>
<rect class="a" x="511.74" y="131.9" width="2.95" height="6.7"/>
<rect class="c" x="513.19" y="131.9" width="4.40" height="6.7"/>
<rect class="g" x="516.10" y="131.9" width="4.40" height="6.7"/>
<rect class="t" x="519.00" y="131.9" width="2.95" height="6.7"/>
<rect class="g" x="520.45" y="131.9" width="4.40" height="6.7"/>
<rect class="c" x="523.36" y="131.9" width="2.95" height="6.7"/>
<rect class="g" x="524.81" y="131.9" width="2.95" height="6.7"/>
<rect class="a" x="526.26" y="131.9" width="4.40" height="6.7"/>
<rect class="g" x="529.16" y="131.9" width="4.40" height="6.7"/>
<rect class="c" x="532.07" y="131.9" width="2.95" height="6.7"/>
<rect class="g" x="533.52" y="131.9" width="4.36" height="6.7"/>
<rect class="c" x="536.42" y="131.9" width="1.45" height="6.7"/>
<rect x="6" y="148.00" width="535" height="0.85" fill="#868686"/>
<text class="r" x="45.6" y="155.6" textLength="12.3" lengthAdjust="spacingAndGlyphs" transform="rotate(0.03 45.0 155.6)">750</text>
<rect x="44.5" y="156.3" width="1" height="1.8" fill="#2a2a2a"/>
<text class="r" x="118.1" y="155.6" textLength="12.3" lengthAdjust="spacingAndGlyphs" transform="rotate(0.03 117.5 155.6)">800</text>
<rect x="117.0" y="156.3" width="1" height="1.8" fill="#2a2a2a"/>
<text class="r" x="190.7" y="155.6" textLength="12.3" lengthAdjust="spacingAndGlyphs" transform="rotate(0.03 190.1 155.6)">850</text>
<rect x="189.6" y="156.3" width="1" height="1.8" fill="#2a2a2a"/>
<text class="r" x="263.2" y="155.6" textLength="12.3" lengthAdjust="spacingAndGlyphs" transform="rotate(0.03 262.6 155.6)">900</text>
<rect x="262.1" y="156.3" width="1" height="1.8" fill="#2a2a2a"/>
<text class="r" x="335.8" y="155.6" textLength="12.3" lengthAdjust="spacingAndGlyphs" transform="rotate(0.03 335.2 155.6)">950</text>
<rect x="334.7" y="156.3" width="1" height="1.8" fill="#2a2a2a"/>
<text class="r" x="408.3" y="155.6" textLength="18.4" lengthAdjust="spacingAndGlyphs" transform="rotate(0.03 407.7 155.6)">1,000</text>
<rect x="407.2" y="156.3" width="1" height="1.8" fill="#2a2a2a"/>
<text class="r" x="480.9" y="155.6" textLength="18.4" lengthAdjust="spacingAndGlyphs" transform="rotate(0.03 480.3 155.6)">1,050</text>
<rect x="479.8" y="156.3" width="1" height="1.8" fill="#2a2a2a"/>
<rect class="c" x="10.80" y="201" width="7.31" height="6.7"/>
<rect class="t" x="16.61" y="201" width="2.95" height="6.7"/>
<rect class="g" x="18.06" y="201" width="4.40" height="6.7"/>
<rect class="a" x="20.96" y="201" width="2.95" height="6.7"/>
<rect class="c" x="22.42" y="201" width="2.95" height="6.7"/>
<rect class="g" x="23.87" y="201" width="2.95" height="6.7"/>
<rect class="a" x="25.32" y="201" width="4.40" height="6.7"/>
<rect class="g" x="28.22" y="201" width="2.95" height="6.7"/>
<rect class="a" x="29.68" y="201" width="2.95" height="6.7"/>
<rect class="c" x="31.13" y="201" width="2.95" height="6.7"/>
<rect class="t" x="32.58" y="201" width="2.95" height="6.7"/>
<rect class="g" x="34.03" y="201" width="2.95" height="6.7"/>
<rect class="a" x="35.48" y="201" width="2.95" height="6.7"/>
<rect class="c" x="36.94" y="201" width="2.95" height="6.7"/>
<rect class="g" x="38.39" y="201" width="2.95" height="6.7"/>
<rect class="c" x="39.84" y="201" width="2.95" height="6.7"/>
<rect class="t" x="41.29" y="201" width="2.95" height="6.7"/>
<rect class="c" x="42.74" y="201" width="2.95" height="6.7"/>
<rect class="a" x="44.20" y="201" width="2.95" height="6.7"/>
<rect class="g" x="45.65" y="201" width="4.40" height="6.7"/>
<rect class="t" x="48.55" y="201" width="2.95" height="6.7"/>
<rect class="g" x="50.00" y="201" width="2.95" height="6.7"/>
<rect class="c" x="51.46" y="201" width="2.95" height="6.7"/>
<rect class="g" x="52.91" y="201" width="2.95" height="6.7"/>
<rect class="a" x="54.36" y="201" width="5.86" height="6.7"/>
<rect class="g" x="58.72" y="201" width="2.95" height="6.7"/>
<rect class="c" x="60.17" y="201" width="2.95" height="6.7"/>
<rect class="g" x="61.62" y="201" width="2.95" height="6.7"/>
<rect class="t" x="63.07" y="201" width="2.95" height="6.7"/>
<rect class="g" x="64.52" y="201" width="7.31" height="6.7"/>
<rect class="a" x="70.33" y="201" width="2.95" height="6.7"/>
<rect class="g" x="71.78" y="201" width="2.95" height="6.7"/>
<rect class="c" x="73.24" y="201" width="2.95" height="6.7"/>
<rect class="a" x="74.69" y="201" width="5.86" height="6.7"/>
<rect class="c" x="79.04" y="201" width="2.95" height="6.7"/>
<rect class="a" x="80.50" y="201" width="2.95" height="6.7"/>
<rect class="g" x="81.95" y="201" width="4.40" height="6.7"/>
<rect class="a" x="84.85" y="201" width="2.95" height="6.7"/>
<rect class="t" x="86.30" y="201" width="4.40" height="6.7"/>
<rect class="a" x="89.21" y="201" width="2.95" height="6.7"/>
<rect class="g" x="90.66" y="201" width="2.95" height="6.7"/>
<rect class="a" x="92.11" y="201" width="2.95" height="6.7"/>
<rect class="t" x="93.56" y="201" width="2.95" height="6.7"/>
<rect class="a" x="95.02" y="201" width="2.95" height="6.7"/>
<rect class="c" x="96.47" y="201" width="5.86" height="6.7"/>
<rect class="t" x="100.82" y="201" width="2.95" height="6.7"/>
<rect class="g" x="102.28" y="201" width="4.40" height="6.7"/>
<rect class="t" x="105.18" y="201" width="2.95" height="6.7"/>
<rect class="a" x="106.63" y="201" width="2.95" height="6.7"/>
<rect class="g" x="108.08" y="201" width="2.95" height="6.7"/>
<rect class="t" x="109.54" y="201" width="2.95" height="6.7"/>
<rect class="c" x="110.99" y="201" width="4.40" height="6.7"/>
<rect class="a" x="113.89" y="201" width="2.95" height="6.7"/>
<rect class="c" x="115.34" y="201" width="2.95" height="6.7"/>
<rect class="g" x="116.80" y="201" width="2.95" height="6.7"/>
<rect class="c" x="118.25" y="201" width="4.40" height="6.7"/>
<rect class="g" x="121.15" y="201" width="2.95" height="6.7"/>
<rect class="t" x="122.60" y="201" width="2.95" height="6.7"/>
<rect class="a" x="124.06" y="201" width="5.86" height="6.7"/>
<rect class="c" x="128.41" y="201" width="2.95" height="6.7"/>
<rect class="g" x="129.86" y="201" width="2.95" height="6.7"/>
<rect class="a" x="131.32" y="201" width="2.95" height="6.7"/>
<rect class="t" x="132.77" y="201" width="2.95" height="6.7"/>
<rect class="g" x="134.22" y="201" width="2.95" height="6.7"/>
<rect class="t" x="135.67" y="201" width="2.95" height="6.7"/>
<rect class="c" x="137.12" y="201" width="2.95" height="6.7"/>
<rect class="g" x="138.58" y="201" width="2.95" height="6.7"/>
<rect class="a" x="140.03" y="201" width="2.95" height="6.7"/>
<rect class="c" x="141.48" y="201" width="2.95" height="6.7"/>
<rect class="t" x="142.93" y="201" width="4.40" height="6.7"/>
<rect class="g" x="145.84" y="201" width="4.40" height="6.7"/>
<rect class="a" x="148.74" y="201" width="2.95" height="6.7"/>
<rect class="g" x="150.19" y="201" width="4.40" height="6.7"/>
<rect class="t" x="153.10" y="201" width="4.40" height="6.7"/>
<rect class="g" x="156.00" y="201" width="2.95" height="6.7"/>
<rect class="t" x="157.45" y="201" width="2.95" height="6.7"/>
<rect class="g" x="158.90" y="201" width="2.95" height="6.7"/>
<rect class="c" x="160.36" y="201" width="5.86" height="6.7"/>
<rect class="t" x="164.71" y="201" width="4.40" height="6.7"/>
<rect class="g" x="167.62" y="201" width="2.95" height="6.7"/>
<rect class="a" x="169.07" y="201" width="2.95" height="6.7"/>
<rect class="g" x="170.52" y="201" width="4.40" height="6.7"/>
<rect class="c" x="173.42" y="201" width="2.95" height="6.7"/>
<rect class="g" x="174.88" y="201" width="2.95" height="6.7"/>
<rect class="t" x="176.33" y="201" width="2.95" height="6.7"/>
<rect class="g" x="177.78" y="201" width="4.40" height="6.7"/>
<rect class="c" x="180.68" y="201" width="2.95" height="6.7"/>
<rect class="t" x="182.14" y="201" width="4.40" height="6.7"/>
<rect class="c" x="185.04" y="201" width="4.40" height="6.7"/>
<rect class="g" x="187.94" y="201" width="4.40" height="6.7"/>
<rect class="a" x="190.85" y="201" width="2.95" height="6.7"/>
<rect class="g" x="192.30" y="201" width="2.95" height="6.7"/>
<rect class="c" x="193.75" y="201" width="2.95" height="6.7"/>
<rect class="t" x="195.20" y="201" width="2.95" height="6.7"/>
<rect class="a" x="196.66" y="201" width="4.40" height="6.7"/>
<rect class="c" x="199.56" y="201" width="2.95" height="6.7"/>
<rect class="g" x="201.01" y="201" width="2.95" height="6.7"/>
<rect class="c" x="202.46" y="201" width="2.95" height="6.7"/>
<rect class="g" x="203.92" y="201" width="2.95" height="6.7"/>
<rect class="t" x="205.37" y="201" width="4.40" height="6.7"/>
<rect class="a" x="208.27" y="201" width="4.40" height="6.7"/>
<rect class="g" x="211.18" y="201" width="2.95" height="6.7"/>
<rect class="t" x="212.63" y="201" width="2.95" height="6.7"/>
<rect class="c" x="214.08" y="201" width="2.95" height="6.7"/>
<rect class="g" x="215.53" y="201" width="2.95" height="6.7"/>
<rect class="a" x="216.98" y="201" width="2.95" height="6.7"/>
<rect class="c" x="218.44" y="201" width="4.40" height="6.7"/>
<rect class="g" x="221.34" y="201" width="2.95" height="6.7"/>
<rect class="c" x="222.79" y="201" width="4.40" height="6.7"/>
<rect class="t" x="225.70" y="201" width="2.95" height="6.7"/>
<rect class="g" x="227.15" y="201" width="7.31" height="6.7"/>
<rect class="a" x="232.96" y="201" width="2.95" height="6.7"/>
<rect class="g" x="234.41" y="201" width="2.95" height="6.7"/>
<rect class="t" x="235.86" y="201" width="2.95" height="6.7"/>
<rect class="a" x="237.31" y="201" width="2.95" height="6.7"/>
<rect class="c" x="238.76" y="201" width="2.95" height="6.7"/>
<rect class="g" x="240.22" y="201" width="4.40" height="6.7"/>
<rect class="c" x="243.12" y="201" width="4.40" height="6.7"/>
<rect class="g" x="246.02" y="201" width="2.95" height="6.7"/>
<rect class="c" x="247.48" y="201" width="2.95" height="6.7"/>
<rect class="a" x="248.93" y="201" width="4.40" height="6.7"/>
<rect class="g" x="251.83" y="201" width="4.40" height="6.7"/>
<rect class="t" x="254.74" y="201" width="4.40" height="6.7"/>
<rect class="a" x="257.64" y="201" width="7.31" height="6.7"/>
<rect class="c" x="263.45" y="201" width="2.95" height="6.7"/>
<rect class="t" x="264.90" y="201" width="2.95" height="6.7"/>
<rect class="c" x="266.35" y="201" width="2.95" height="6.7"/>
<rect class="a" x="267.80" y="201" width="5.86" height="6.7"/>
<rect class="t" x="272.16" y="201" width="2.95" height="6.7"/>
<rect class="g" x="273.61" y="201" width="2.95" height="6.7"/>
<rect class="a" x="275.06" y="201" width="4.40" height="6.7"/>
<rect class="t" x="277.97" y="201" width="4.40" height="6.7"/>
<rect class="g" x="280.87" y="201" width="2.95" height="6.7"/>
<rect class="a" x="282.32" y="201" width="2.95" height="6.7"/>
<rect class="c" x="283.78" y="201" width="2.95" height="6.7"/>
<rect class="g" x="285.23" y="201" width="8.76" height="6.7"/>
<rect class="c" x="292.49" y="201" width="4.40" height="6.7"/>
<rect class="g" x="295.39" y="201" width="2.95" height="6.7"/>
<rect class="c" x="296.84" y="201" width="2.95" height="6.7"/>
<rect class="a" x="298.30" y="201" width="2.95" height="6.7"/>
<rect class="c" x="299.75" y="201" width="2.95" height="6.7"/>
<rect class="a" x="301.20" y="201" width="4.40" height="6.7"/>
<rect class="g" x="304.10" y="201" width="2.95" height="6.7"/>
<rect class="c" x="305.56" y="201" width="2.95" height="6.7"/>
<rect class="g" x="307.01" y="201" width="4.40" height="6.7"/>
<rect class="t" x="309.91" y="201" width="2.95" height="6.7"/>
<rect class="g" x="311.36" y="201" width="4.40" height="6.7"/>
<rect class="a" x="314.27" y="201" width="2.95" height="6.7"/>
<rect class="g" x="315.72" y="201" width="2.95" height="6.7"/>
<rect class="c" x="317.17" y="201" width="2.95" height="6.7"/>
<rect class="a" x="318.62" y="201" width="2.95" height="6.7"/>
<rect class="t" x="320.08" y="201" width="2.95" height="6.7"/>
<rect class="g" x="321.53" y="201" width="2.95" height="6.7"/>
<rect class="t" x="322.98" y="201" width="2.95" height="6.7"/>
<rect class="g" x="324.43" y="201" width="4.40" height="6.7"/>
<rect class="t" x="327.34" y="201" width="5.86" height="6.7"/>
<rect class="a" x="331.69" y="201" width="4.40" height="6.7"/>
<rect class="t" x="334.60" y="201" width="4.40" height="6.7"/>
<rect class="c" x="337.50" y="201" width="2.95" height="6.7"/>
<rect class="g" x="338.95" y="201" width="2.95" height="6.7"/>
<rect class="a" x="340.40" y="201" width="2.95" height="6.7"/>
<rect class="t" x="341.86" y="201" width="2.95" height="6.7"/>
<rect class="g" x="343.31" y="201" width="2.95" height="6.7"/>
<rect class="c" x="344.76" y="201" width="2.95" height="6.7"/>
<rect class="a" x="346.21" y="201" width="4.40" height="6.7"/>
<rect class="c" x="349.12" y="201" width="2.95" height="6.7"/>
<rect class="g" x="350.57" y="201" width="2.95" height="6.7"/>
<rect class="c" x="352.02" y="201" width="2.95" height="6.7"/>
<rect class="g" x="353.47" y="201" width="2.95" height="6.7"/>
<rect class="a" x="354.92" y="201" width="4.40" height="6.7"/>
<rect class="g" x="357.83" y="201" width="2.95" height="6.7"/>
<rect class="a" x="359.28" y="201" width="4.40" height="6.7"/>
<rect class="c" x="362.18" y="201" width="4.40" height="6.7"/>
<rect class="t" x="365.09" y="201" width="4.40" height="6.7"/>
<rect class="a" x="367.99" y="201" width="2.95" height="6.7"/>
<rect class="c" x="369.44" y="201" width="4.40" height="6.7"/>
<rect class="t" x="372.35" y="201" width="2.95" height="6.7"/>
<rect class="g" x="373.80" y="201" width="4.40" height="6.7"/>
<rect class="t" x="376.70" y="201" width="2.95" height="6.7"/>
<rect class="c" x="378.16" y="201" width="2.95" height="6.7"/>
<rect class="t" x="379.61" y="201" width="4.40" height="6.7"/>
<rect class="g" x="382.51" y="201" width="2.95" height="6.7"/>
<rect class="a" x="383.96" y="201" width="2.95" height="6.7"/>
<rect class="c" x="385.42" y="201" width="2.95" height="6.7"/>
<rect class="a" x="386.87" y="201" width="2.95" height="6.7"/>
<rect class="t" x="388.32" y="201" width="2.95" height="6.7"/>
<rect class="c" x="389.77" y="201" width="4.40" height="6.7"/>
<rect class="a" x="392.68" y="201" width="2.95" height="6.7"/>
<rect class="c" x="394.13" y="201" width="2.95" height="6.7"/>
<rect class="g" x="395.58" y="201" width="4.40" height="6.7"/>
<rect class="a" x="398.48" y="201" width="4.40" height="6.7"/>
<rect class="g" x="401.39" y="201" width="2.95" height="6.7"/>
<rect class="t" x="402.84" y="201" width="7.31" height="6.7"/>
<rect class="c" x="408.65" y="201" width="2.95" height="6.7"/>
<rect class="a" x="410.10" y="201" width="2.95" height="6.7"/>
<rect class="g" x="411.55" y="201" width="2.95" height="6.7"/>
<rect class="a" x="413.00" y="201" width="2.95" height="6.7"/>
<rect class="g" x="414.46" y="201" width="2.95" height="6.7"/>
<rect class="a" x="415.91" y="201" width="2.95" height="6.7"/>
<rect class="t" x="417.36" y="201" width="2.95" height="6.7"/>
<rect class="g" x="418.81" y="201" width="2.95" height="6.7"/>
<rect class="a" x="420.26" y="201" width="2.95" height="6.7"/>
<rect class="g" x="421.72" y="201" width="2.95" height="6.7"/>
<rect class="a" x="423.17" y="201" width="4.40" height="6.7"/>
<rect class="t" x="426.07" y="201" width="2.95" height="6.7"/>
<rect class="g" x="427.52" y="201" width="2.95" height="6.7"/>
<rect class="t" x="428.98" y="201" width="2.95" height="6.7"/>
<rect class="g" x="430.43" y="201" width="2.95" height="6.7"/>
<rect class="c" x="431.88" y="201" width="4.40" height="6.7"/>
<rect class="t" x="434.78" y="201" width="4.40" height="6.7"/>
<rect class="c" x="437.69" y="201" width="2.95" height="6.7"/>
<rect class="g" x="439.14" y="201" width="5.86" height="6.7"/>
<rect class="a" x="443.50" y="201" width="4.40" height="6.7"/>
<rect class="c" x="446.40" y="201" width="4.40" height="6.7"/>
<rect class="g" x="449.30" y="201" width="2.95" height="6.7"/>
<rect class="t" x="450.76" y="201" width="2.95" height="6.7"/>
<rect class="g" x="452.21" y="201" width="2.95" height="6.7"/>
<rect class="a" x="453.66" y="201" width="2.95" height="6.7"/>
<rect class="g" x="455.11" y="201" width="2.95" height="6.7"/>
<rect class="a" x="456.56" y="201" width="2.95" height="6.7"/>
<rect class="c" x="458.02" y="201" width="2.95" height="6.7"/>
<rect class="a" x="459.47" y="201" width="2.95" height="6.7"/>
<rect class="g" x="460.92" y="201" width="4.40" height="6.7"/>
<rect class="t" x="463.82" y="201" width="2.95" height="6.7"/>
<rect class="g" x="465.28" y="201" width="2.95" height="6.7"/>
<rect class="c" x="466.73" y="201" width="2.95" height="6.7"/>
<rect class="t" x="468.18" y="201" width="2.95" height="6.7"/>
<rect class="g" x="469.63" y="201" width="2.95" height="6.7"/>
<rect class="c" x="471.08" y="201" width="2.95" height="6.7"/>
<rect class="a" x="472.54" y="201" width="2.95" height="6.7"/>
<rect class="t" x="473.99" y="201" width="2.95" height="6.7"/>
<rect class="g" x="475.44" y="201" width="4.40" height="6.7"/>
<rect class="c" x="478.34" y="201" width="2.95" height="6.7"/>
<rect class="t" x="479.80" y="201" width="2.95" height="6.7"/>
<rect class="g" x="481.25" y="201" width="2.95" height="6.7"/>
<rect class="t" x="482.70" y="201" width="2.95" height="6.7"/>
<rect class="c" x="484.15" y="201" width="2.95" height="6.7"/>
<rect class="g" x="485.60" y="201" width="2.95" height="6.7"/>
<rect class="t" x="487.06" y="201" width="2.95" height="6.7"/>
<rect class="c" x="488.51" y="201" width="2.95" height="6.7"/>
<rect class="a" x="489.96" y="201" width="2.95" height="6.7"/>
<rect class="g" x="491.41" y="201" width="2.95" height="6.7"/>
<rect class="c" x="492.86" y="201" width="2.95" height="6.7"/>
<rect class="t" x="494.32" y="201" width="2.95" height="6.7"/>
<rect class="c" x="495.77" y="201" width="2.95" height="6.7"/>
<rect class="g" x="497.22" y="201" width="2.95" height="6.7"/>
<rect class="t" x="498.67" y="201" width="2.95" height="6.7"/>
<rect class="g" x="500.12" y="201" width="2.95" height="6.7"/>
<rect class="t" x="501.58" y="201" width="4.40" height="6.7"/>
<rect class="g" x="504.48" y="201" width="2.95" height="6.7"/>
<rect class="t" x="505.93" y="201" width="2.95" height="6.7"/>
<rect class="g" x="507.38" y="201" width="2.95" height="6.7"/>
<rect class="a" x="508.84" y="201" width="5.86" height="6.7"/>
<rect class="t" x="513.19" y="201" width="2.95" height="6.7"/>
<rect class="g" x="514.64" y="201" width="2.95" height="6.7"/>
<rect class="t" x="516.10" y="201" width="4.40" height="6.7"/>
<rect class="g" x="519.00" y="201" width="5.86" height="6.7"/>
<rect class="t" x="523.36" y="201" width="4.40" height="6.7"/>
<rect class="a" x="526.26" y="201" width="4.40" height="6.7"/>
<rect class="g" x="529.16" y="201" width="2.95" height="6.7"/>
<rect class="t" x="530.62" y="201" width="2.95" height="6.7"/>
<rect class="c" x="532.07" y="201" width="5.81" height="6.7"/>
<rect class="g" x="536.42" y="201" width="1.45" height="6.7"/>
<rect x="6" y="217.00" width="535" height="0.85" fill="#868686"/>
<text class="r" x="26.7" y="224.7" textLength="18.4" lengthAdjust="spacingAndGlyphs" transform="rotate(0.03 26.1 224.7)">1,100</text>
<rect x="25.6" y="225.4" width="1" height="1.8" fill="#2a2a2a"/>
<text class="r" x="99.3" y="224.7" textLength="18.4" lengthAdjust="spacingAndGlyphs" transform="rotate(0.03 98.7 224.7)">1,150</text>
<rect x="98.2" y="225.4" width="1" height="1.8" fill="#2a2a2a"/>
<text class="r" x="171.8" y="224.7" textLength="18.4" lengthAdjust="spacingAndGlyphs" transform="rotate(0.03 171.2 224.7)">1,200</text>
<rect x="170.7" y="225.4" width="1" height="1.8" fill="#2a2a2a"/>
<text class="r" x="244.4" y="224.7" textLength="18.4" lengthAdjust="spacingAndGlyphs" transform="rotate(0.03 243.8 224.7)">1,250</text>
<rect x="243.3" y="225.4" width="1" height="1.8" fill="#2a2a2a"/>
<text class="r" x="316.9" y="224.7" textLength="18.4" lengthAdjust="spacingAndGlyphs" transform="rotate(0.03 316.3 224.7)">1,300</text>
<rect x="315.8" y="225.4" width="1" height="1.8" fill="#2a2a2a"/>
<text class="r" x="389.5" y="224.7" textLength="18.4" lengthAdjust="spacingAndGlyphs" transform="rotate(0.03 388.9 224.7)">1,350</text>
<rect x="388.4" y="225.4" width="1" height="1.8" fill="#2a2a2a"/>
<text class="r" x="462.0" y="224.7" textLength="18.4" lengthAdjust="spacingAndGlyphs" transform="rotate(0.03 461.4 224.7)">1,400</text>
<rect x="460.9" y="225.4" width="1" height="1.8" fill="#2a2a2a"/>
<text class="r" x="531.2" y="224.7" textLength="18.4" lengthAdjust="spacingAndGlyphs" transform="rotate(0.03 534.0 224.7)">1,450</text>
<rect x="533.5" y="225.4" width="1" height="1.8" fill="#2a2a2a"/>
<rect class="c" x="10.80" y="270.1" width="2.95" height="6.7"/>
<rect class="a" x="12.25" y="270.1" width="4.40" height="6.7"/>
<rect class="c" x="15.16" y="270.1" width="2.95" height="6.7"/>
<rect class="g" x="16.61" y="270.1" width="2.95" height="6.7"/>
<rect class="a" x="18.06" y="270.1" width="2.95" height="6.7"/>
<rect class="g" x="19.51" y="270.1" width="2.95" height="6.7"/>
<rect class="c" x="20.96" y="270.1" width="2.95" height="6.7"/>
<rect class="g" x="22.42" y="270.1" width="2.95" height="6.7"/>
<rect class="c" x="23.87" y="270.1" width="2.95" height="6.7"/>
<rect class="a" x="25.32" y="270.1" width="4.40" height="6.7"/>
<rect class="c" x="28.22" y="270.1" width="5.86" height="6.7"/>
<rect class="t" x="32.58" y="270.1" width="4.40" height="6.7"/>
<rect class="a" x="35.48" y="270.1" width="2.95" height="6.7"/>
<rect class="t" x="36.94" y="270.1" width="2.95" height="6.7"/>
<rect class="c" x="38.39" y="270.1" width="4.40" height="6.7"/>
<rect class="t" x="41.29" y="270.1" width="5.86" height="6.7"/>
<rect class="g" x="45.65" y="270.1" width="2.95" height="6.7"/>
<rect class="t" x="47.10" y="270.1" width="4.40" height="6.7"/>
<rect class="g" x="50.00" y="270.1" width="2.95" height="6.7"/>
<rect class="c" x="51.46" y="270.1" width="4.40" height="6.7"/>
<rect class="a" x="54.36" y="270.1" width="2.95" height="6.7"/>
<rect class="g" x="55.81" y="270.1" width="2.95" height="6.7"/>
<rect class="c" x="57.26" y="270.1" width="2.95" height="6.7"/>
<rect class="g" x="58.72" y="270.1" width="4.40" height="6.7"/>
<rect class="t" x="61.62" y="270.1" width="2.95" height="6.7"/>
<rect class="c" x="63.07" y="270.1" width="4.40" height="6.7"/>
<rect class="g" x="65.98" y="270.1" width="4.40" height="6.7"/>
<rect class="c" x="68.88" y="270.1" width="4.40" height="6.7"/>
<rect class="g" x="71.78" y="270.1" width="5.86" height="6.7"/>
<rect class="a" x="76.14" y="270.1" width="4.40" height="6.7"/>
<rect class="c" x="79.04" y="270.1" width="2.95" height="6.7"/>
<rect class="t" x="80.50" y="270.1" width="2.95" height="6.7"/>
<rect class="c" x="81.95" y="270.1" width="2.95" height="6.7"/>
<rect class="a" x="83.40" y="270.1" width="5.86" height="6.7"/>
<rect class="g" x="87.76" y="270.1" width="4.40" height="6.7"/>
<rect class="a" x="90.66" y="270.1" width="2.95" height="6.7"/>
<rect class="g" x="92.11" y="270.1" width="2.95" height="6.7"/>
<rect class="a" x="93.56" y="270.1" width="2.95" height="6.7"/>
<rect class="c" x="95.02" y="270.1" width="2.95" height="6.7"/>
<rect class="t" x="96.47" y="270.1" width="2.95" height="6.7"/>
<rect class="g" x="97.92" y="270.1" width="2.95" height="6.7"/>
<rect class="c" x="99.37" y="270.1" width="4.40" height="6.7"/>
<rect class="a" x="102.28" y="270.1" width="2.95" height="6.7"/>
<rect class="g" x="103.73" y="270.1" width="2.95" height="6.7"/>
<rect class="t" x="105.18" y="270.1" width="2.95" height="6.7"/>
<rect class="g" x="106.63" y="270.1" width="2.95" height="6.7"/>
<rect class="a" x="108.08" y="270.1" width="2.95" height="6.7"/>
<rect class="t" x="109.54" y="270.1" width="2.95" height="6.7"/>
<rect class="a" x="110.99" y="270.1" width="5.86" height="6.7"/>
<rect class="c" x="115.34" y="270.1" width="2.95" height="6.7"/>
<rect class="t" x="116.80" y="270.1" width="2.95" height="6.7"/>
<rect class="g" x="118.25" y="270.1" width="4.40" height="6.7"/>
<rect class="a" x="121.15" y="270.1" width="2.95" height="6.7"/>
<rect class="g" x="122.60" y="270.1" width="4.40" height="6.7"/>
<rect class="a" x="125.51" y="270.1" width="4.40" height="6.7"/>
<rect class="g" x="128.41" y="270.1" width="4.40" height="6.7"/>
<rect class="t" x="131.32" y="270.1" width="2.95" height="6.7"/>
<rect class="g" x="132.77" y="270.1" width="7.31" height="6.7"/>
<rect class="a" x="138.58" y="270.1" width="2.95" height="6.7"/>
<rect class="t" x="140.03" y="270.1" width="2.95" height="6.7"/>
<rect class="g" x="141.48" y="270.1" width="2.95" height="6.7"/>
<rect class="a" x="142.93" y="270.1" width="2.95" height="6.7"/>
<rect class="c" x="144.38" y="270.1" width="2.95" height="6.7"/>
<rect class="g" x="145.84" y="270.1" width="2.95" height="6.7"/>
<rect class="t" x="147.29" y="270.1" width="2.95" height="6.7"/>
<rect class="c" x="148.74" y="270.1" width="2.95" height="6.7"/>
<rect class="a" x="150.19" y="270.1" width="4.40" height="6.7"/>
<rect class="g" x="153.10" y="270.1" width="2.95" height="6.7"/>
<rect class="t" x="154.55" y="270.1" width="2.95" height="6.7"/>
<rect class="c" x="156.00" y="270.1" width="2.95" height="6.7"/>
<rect class="a" x="157.45" y="270.1" width="2.95" height="6.7"/>
<rect class="t" x="158.90" y="270.1" width="2.95" height="6.7"/>
<rect class="c" x="160.36" y="270.1" width="2.95" height="6.7"/>
<rect class="a" x="161.81" y="270.1" width="2.95" height="6.7"/>
<rect class="t" x="163.26" y="270.1" width="2.95" height="6.7"/>
<rect class="g" x="164.71" y="270.1" width="4.40" height="6.7"/>
<rect class="c" x="167.62" y="270.1" width="5.86" height="6.7"/>
<rect class="t" x="171.97" y="270.1" width="4.40" height="6.7"/>
<rect class="a" x="174.88" y="270.1" width="2.95" height="6.7"/>
<rect class="c" x="176.33" y="270.1" width="2.95" height="6.7"/>
<rect class="g" x="177.78" y="270.1" width="2.95" height="6.7"/>
<rect class="a" x="179.23" y="270.1" width="2.95" height="6.7"/>
<rect class="c" x="180.68" y="270.1" width="4.40" height="6.7"/>
<rect class="a" x="183.59" y="270.1" width="2.95" height="6.7"/>
<rect class="g" x="185.04" y="270.1" width="5.86" height="6.7"/>
<rect class="c" x="189.40" y="270.1" width="2.95" height="6.7"/>
<rect class="t" x="190.85" y="270.1" width="2.95" height="6.7"/>
<rect class="a" x="192.30" y="270.1" width="2.95" height="6.7"/>
<rect class="c" x="193.75" y="270.1" width="2.95" height="6.7"/>
<rect class="a" x="195.20" y="270.1" width="2.95" height="6.7"/>
<rect class="c" x="196.66" y="270.1" width="2.95" height="6.7"/>
<rect class="a" x="198.11" y="270.1" width="2.95" height="6.7"/>
<rect class="c" x="199.56" y="270.1" width="2.95" height="6.7"/>
<rect class="g" x="201.01" y="270.1" width="2.95" height="6.7"/>
<rect class="t" x="202.46" y="270.1" width="2.95" height="6.7"/>
<rect class="g" x="203.92" y="270.1" width="2.95" height="6.7"/>
<rect class="c" x="205.37" y="270.1" width="2.95" height="6.7"/>
<rect class="t" x="206.82" y="270.1" width="2.95" height="6.7"/>
<rect class="a" x="208.27" y="270.1" width="2.95" height="6.7"/>
<rect class="c" x="209.72" y="270.1" width="2.95" height="6.7"/>
<rect class="a" x="211.18" y="270.1" width="4.40" height="6.7"/>
<rect class="t" x="214.08" y="270.1" width="2.95" height="6.7"/>
<rect class="g" x="215.53" y="270.1" width="4.40" height="6.7"/>
<rect class="c" x="218.44" y="270.1" width="2.95" height="6.7"/>
<rect class="g" x="219.89" y="270.1" width="2.95" height="6.7"/>
<rect class="c" x="221.34" y="270.1" width="2.95" height="6.7"/>
<rect class="a" x="222.79" y="270.1" width="2.95" height="6.7"/>
<rect class="t" x="224.24" y="270.1" width="2.95" height="6.7"/>
<rect class="a" x="225.70" y="270.1" width="2.95" height="6.7"/>
<rect class="c" x="227.15" y="270.1" width="2.95" height="6.7"/>
<rect class="a" x="228.60" y="270.1" width="5.86" height="6.7"/>
<rect class="g" x="232.96" y="270.1" width="2.95" height="6.7"/>
<rect class="a" x="234.41" y="270.1" width="2.95" height="6.7"/>
<rect class="g" x="235.86" y="270.1" width="2.95" height="6.7"/>
<rect class="a" x="237.31" y="270.1" width="4.40" height="6.7"/>
<rect class="g" x="240.22" y="270.1" width="2.95" height="6.7"/>
<rect class="c" x="241.67" y="270.1" width="2.95" height="6.7"/>
<rect class="g" x="243.12" y="270.1" width="2.95" height="6.7"/>
<rect class="a" x="244.57" y="270.1" width="2.95" height="6.7"/>
<rect class="c" x="246.02" y="270.1" width="4.40" height="6.7"/>
<rect class="t" x="248.93" y="270.1" width="2.95" height="6.7"/>
<rect class="c" x="250.38" y="270.1" width="2.95" height="6.7"/>
<rect class="g" x="251.83" y="270.1" width="2.95" height="6.7"/>
<rect class="c" x="253.28" y="270.1" width="2.95" height="6.7"/>
<rect class="g" x="254.74" y="270.1" width="2.95" height="6.7"/>
<rect class="a" x="256.19" y="270.1" width="2.95" height="6.7"/>
<rect class="g" x="257.64" y="270.1" width="2.95" height="6.7"/>
<rect class="a" x="259.09" y="270.1" width="2.95" height="6.7"/>
<rect class="g" x="260.54" y="270.1" width="2.95" height="6.7"/>
<rect class="c" x="262.00" y="270.1" width="2.95" height="6.7"/>
<rect class="a" x="263.45" y="270.1" width="4.40" height="6.7"/>
<rect class="g" x="266.35" y="270.1" width="2.95" height="6.7"/>
<rect class="c" x="267.80" y="270.1" width="2.95" height="6.7"/>
<rect class="g" x="269.26" y="270.1" width="4.40" height="6.7"/>
<rect class="a" x="272.16" y="270.1" width="2.95" height="6.7"/>
<rect class="c" x="273.61" y="270.1" width="4.40" height="6.7"/>
<rect class="t" x="276.52" y="270.1" width="2.95" height="6.7"/>
<rect class="c" x="277.97" y="270.1" width="2.95" height="6.7"/>
<rect class="a" x="279.42" y="270.1" width="2.95" height="6.7"/>
<rect class="t" x="280.87" y="270.1" width="2.95" height="6.7"/>
<rect class="a" x="282.32" y="270.1" width="5.86" height="6.7"/>
<rect class="g" x="286.68" y="270.1" width="2.95" height="6.7"/>
<rect class="t" x="288.13" y="270.1" width="2.95" height="6.7"/>
<rect class="g" x="289.58" y="270.1" width="2.95" height="6.7"/>
<rect class="c" x="291.04" y="270.1" width="2.95" height="6.7"/>
<rect class="g" x="292.49" y="270.1" width="2.95" height="6.7"/>
<rect class="t" x="293.94" y="270.1" width="2.95" height="6.7"/>
<rect class="c" x="295.39" y="270.1" width="2.95" height="6.7"/>
<rect class="g" x="296.84" y="270.1" width="2.95" height="6.7"/>
<rect class="t" x="298.30" y="270.1" width="2.95" height="6.7"/>
<rect class="a" x="299.75" y="270.1" width="2.95" height="6.7"/>
<rect class="g" x="301.20" y="270.1" width="2.95" height="6.7"/>
<rect class="t" x="302.65" y="270.1" width="2.95" height="6.7"/>
<rect class="c" x="304.10" y="270.1" width="4.40" height="6.7"/>
<rect class="g" x="307.01" y="270.1" width="4.40" height="6.7"/>
<rect class="a" x="309.91" y="270.1" width="2.95" height="6.7"/>
<rect class="t" x="311.36" y="270.1" width="4.40" height="6.7"/>
<rect class="g" x="314.27" y="270.1" width="4.40" height="6.7"/>
<rect class="a" x="317.17" y="270.1" width="2.95" height="6.7"/>
<rect class="g" x="318.62" y="270.1" width="2.95" height="6.7"/>
<rect class="t" x="320.08" y="270.1" width="2.95" height="6.7"/>
<rect class="c" x="321.53" y="270.1" width="2.95" height="6.7"/>
<rect class="t" x="322.98" y="270.1" width="2.95" height="6.7"/>
<rect class="g" x="324.43" y="270.1" width="2.95" height="6.7"/>
<rect class="c" x="325.88" y="270.1" width="2.95" height="6.7"/>
<rect class="a" x="327.34" y="270.1" width="4.40" height="6.7"/>
<rect class="c" x="330.24" y="270.1" width="2.95" height="6.7"/>
<rect class="t" x="331.69" y="270.1" width="2.95" height="6.7"/>
<rect class="c" x="333.14" y="270.1" width="2.95" height="6.7"/>
<rect class="g" x="334.60" y="270.1" width="2.95" height="6.7"/>
<rect class="a" x="336.05" y="270.1" width="2.95" height="6.7"/>
<rect class="c" x="337.50" y="270.1" width="2.95" height="6.7"/>
<rect class="t" x="338.95" y="270.1" width="2.95" height="6.7"/>
<rect class="c" x="340.40" y="270.1" width="4.40" height="6.7"/>
<rect class="a" x="343.31" y="270.1" width="2.95" height="6.7"/>
<rect class="t" x="344.76" y="270.1" width="2.95" height="6.7"/>
<rect class="g" x="346.21" y="270.1" width="2.95" height="6.7"/>
<rect class="a" x="347.66" y="270.1" width="4.40" height="6.7"/>
<rect class="g" x="350.57" y="270.1" width="2.95" height="6.7"/>
<rect class="t" x="352.02" y="270.1" width="2.95" height="6.7"/>
<rect class="c" x="353.47" y="270.1" width="2.95" height="6.7"/>
<rect class="g" x="354.92" y="270.1" width="4.40" height="6.7"/>
<rect class="a" x="357.83" y="270.1" width="4.40" height="6.7"/>
<rect class="t" x="360.73" y="270.1" width="2.95" height="6.7"/>
<rect class="c" x="362.18" y="270.1" width="2.95" height="6.7"/>
<rect class="g" x="363.64" y="270.1" width="2.95" height="6.7"/>
<rect class="c" x="365.09" y="270.1" width="2.95" height="6.7"/>
<rect class="t" x="366.54" y="270.1" width="2.95" height="6.7"/>
<rect class="a" x="367.99" y="270.1" width="2.95" height="6.7"/>
<rect class="g" x="369.44" y="270.1" width="2.95" height="6.7"/>
<rect class="t" x="370.90" y="270.1" width="2.95" height="6.7"/>
<rect class="a" x="372.35" y="270.1" width="4.40" height="6.7"/>
<rect class="t" x="375.25" y="270.1" width="2.95" height="6.7"/>
<rect class="c" x="376.70" y="270.1" width="2.95" height="6.7"/>
<rect class="g" x="378.16" y="270.1" width="2.95" height="6.7"/>
<rect class="t" x="379.61" y="270.1" width="2.95" height="6.7"/>
<rect class="g" x="381.06" y="270.1" width="4.40" height="6.7"/>
<rect class="a" x="383.96" y="270.1" width="2.95" height="6.7"/>
<rect class="t" x="385.42" y="270.1" width="2.95" height="6.7"/>
<rect class="c" x="386.87" y="270.1" width="2.95" height="6.7"/>
<rect class="a" x="388.32" y="270.1" width="2.95" height="6.7"/>
<rect class="g" x="389.77" y="270.1" width="2.95" height="6.7"/>
<rect class="a" x="391.22" y="270.1" width="4.40" height="6.7"/>
<rect class="t" x="394.13" y="270.1" width="2.95" height="6.7"/>
<rect class="g" x="395.58" y="270.1" width="2.95" height="6.7"/>
<rect class="c" x="397.03" y="270.1" width="4.40" height="6.7"/>
<rect class="a" x="399.94" y="270.1" width="2.95" height="6.7"/>
<rect class="c" x="401.39" y="270.1" width="2.95" height="6.7"/>
<rect class="g" x="402.84" y="270.1" width="4.40" height="6.7"/>
<rect class="t" x="405.74" y="270.1" width="2.95" height="6.7"/>
<rect class="g" x="407.20" y="270.1" width="2.95" height="6.7"/>
<rect class="a" x="408.65" y="270.1" width="4.40" height="6.7"/>
<rect class="t" x="411.55" y="270.1" width="2.95" height="6.7"/>
<rect class="a" x="413.00" y="270.1" width="2.95" height="6.7"/>
<rect class="c" x="414.46" y="270.1" width="2.95" height="6.7"/>
<rect class="g" x="415.91" y="270.1" width="2.95" height="6.7"/>
<rect class="t" x="417.36" y="270.1" width="4.40" height="6.7"/>
<rect class="c" x="420.26" y="270.1" width="5.86" height="6.7"/>
<rect class="g" x="424.62" y="270.1" width="5.86" height="6.7"/>
<rect class="c" x="428.98" y="270.1" width="4.40" height="6.7"/>
<rect class="t" x="431.88" y="270.1" width="4.40" height="6.7"/>
<rect class="g" x="434.78" y="270.1" width="2.95" height="6.7"/>
<rect class="t" x="436.24" y="270.1" width="2.95" height="6.7"/>
<rect class="a" x="437.69" y="270.1" width="2.95" height="6.7"/>
<rect class="c" x="439.14" y="270.1" width="2.95" height="6.7"/>
<rect class="a" x="440.59" y="270.1" width="2.95" height="6.7"/>
<rect class="c" x="442.04" y="270.1" width="2.95" height="6.7"/>
<rect class="a" x="443.50" y="270.1" width="2.95" height="6.7"/>
<rect class="c" x="444.95" y="270.1" width="4.40" height="6.7"/>
<rect class="g" x="447.85" y="270.1" width="2.95" height="6.7"/>
<rect class="c" x="449.30" y="270.1" width="5.86" height="6.7"/>
<rect class="g" x="453.66" y="270.1" width="2.95" height="6.7"/>
<rect class="t" x="455.11" y="270.1" width="2.95" height="6.7"/>
<rect class="c" x="456.56" y="270.1" width="2.95" height="6.7"/>
<rect class="a" x="458.02" y="270.1" width="2.95" height="6.7"/>
<rect class="c" x="459.47" y="270.1" width="2.95" height="6.7"/>
<rect class="a" x="460.92" y="270.1" width="2.95" height="6.7"/>
<rect class="c" x="462.37" y="270.1" width="4.40" height="6.7"/>
<rect class="a" x="465.28" y="270.1" width="2.95" height="6.7"/>
<rect class="t" x="466.73" y="270.1" width="2.95" height="6.7"/>
<rect class="g" x="468.18" y="270.1" width="5.86" height="6.7"/>
<rect class="a" x="472.54" y="270.1" width="2.95" height="6.7"/>
<rect class="g" x="473.99" y="270.1" width="2.95" height="6.7"/>
<rect class="t" x="475.44" y="270.1" width="2.95" height="6.7"/>
<rect class="g" x="476.89" y="270.1" width="5.86" height="6.7"/>
<rect class="t" x="481.25" y="270.1" width="4.40" height="6.7"/>
<rect class="g" x="484.15" y="270.1" width="2.95" height="6.7"/>
<rect class="c" x="485.60" y="270.1" width="2.95" height="6.7"/>
<rect class="a" x="487.06" y="270.1" width="7.31" height="6.7"/>
<rect class="g" x="492.86" y="270.1" width="2.95" height="6.7"/>
<rect class="a" x="494.32" y="270.1" width="4.40" height="6.7"/>
<rect class="g" x="497.22" y="270.1" width="2.95" height="6.7"/>
<rect class="t" x="498.67" y="270.1" width="2.95" height="6.7"/>
<rect class="a" x="500.12" y="270.1" width="2.95" height="6.7"/>
<rect class="g" x="501.58" y="270.1" width="4.40" height="6.7"/>
<rect class="t" x="504.48" y="270.1" width="2.95" height="6.7"/>
<rect class="a" x="505.93" y="270.1" width="2.95" height="6.7"/>
<rect class="g" x="507.38" y="270.1" width="2.95" height="6.7"/>
<rect class="c" x="508.84" y="270.1" width="2.95" height="6.7"/>
<rect class="t" x="510.29" y="270.1" width="4.40" height="6.7"/>
<rect class="a" x="513.19" y="270.1" width="4.40" height="6.7"/>
<rect class="c" x="516.10" y="270.1" width="2.95" height="6.7"/>
<rect class="t" x="517.55" y="270.1" width="4.40" height="6.7"/>
<rect class="c" x="520.45" y="270.1" width="2.95" height="6.7"/>
<rect class="g" x="521.90" y="270.1" width="5.86" height="6.7"/>
<rect class="a" x="526.26" y="270.1" width="2.95" height="6.7"/>
<rect class="g" x="527.71" y="270.1" width="5.86" height="6.7"/>
<rect class="c" x="532.07" y="270.1" width="2.90" height="6.7"/>
<rect class="g" x="533.52" y="270.1" width="1.45" height="6.7"/>
<rect x="50.2" y="131.90" width="2.3" height="6.7" fill="#00003c" fill-opacity="0.32"/>
<rect x="52.3" y="131.90" width="1.0" height="6.7" fill="#000" fill-opacity="0.8"/>
<rect x="193.1" y="201.00" width="1.6" height="6.7" fill="#101020" fill-opacity="0.6"/>
<rect x="110.2" y="48.6" width="45.0" height="12.9" rx="2.5" fill="#405870" fill-opacity="0.35" filter="url(#bl)"/>
<rect x="109.5" y="47.6" width="45.0" height="12.9" rx="2.5" fill="url(#fb)" stroke="#1b5f94" stroke-width="0.7"/>
<text class="f" x="132.9" y="57.5" transform="rotate(0.03 132.0 57.5)">V1</text>
<rect x="209.0" y="48.6" width="153.9" height="12.9" rx="2.5" fill="#405870" fill-opacity="0.35" filter="url(#bl)"/>
<rect x="208.3" y="47.6" width="153.9" height="12.9" rx="2.5" fill="url(#fb)" stroke="#1b5f94" stroke-width="0.7"/>
<text class="f" x="286.1" y="57.5" transform="rotate(0.03 285.2 57.5)">V2</text>
<rect x="111.7" y="117.8" width="94.4" height="12.9" rx="2.5" fill="#405870" fill-opacity="0.35" filter="url(#bl)"/>
<rect x="111.0" y="116.8" width="94.4" height="12.9" rx="2.5" fill="url(#fb)" stroke="#1b5f94" stroke-width="0.7"/>
<text class="f" x="159.1" y="126.7" transform="rotate(0.03 158.2 126.7)">V3</text>
<rect x="319.3" y="117.8" width="155.4" height="12.9" rx="2.5" fill="#405870" fill-opacity="0.35" filter="url(#bl)"/>
<rect x="318.6" y="116.8" width="155.4" height="12.9" rx="2.5" fill="url(#fb)" stroke="#1b5f94" stroke-width="0.7"/>
<text class="f" x="397.2" y="126.7" transform="rotate(0.03 396.3 126.7)">V4</text>
<rect x="149.4" y="186.8" width="84.2" height="12.9" rx="2.5" fill="#405870" fill-opacity="0.35" filter="url(#bl)"/>
<rect x="148.7" y="185.8" width="84.2" height="12.9" rx="2.5" fill="url(#fb)" stroke="#1b5f94" stroke-width="0.7"/>
<text class="f" x="191.7" y="195.7" transform="rotate(0.03 190.8 195.7)">V5</text>
<rect x="387.6" y="186.8" width="84.2" height="12.9" rx="2.5" fill="#405870" fill-opacity="0.35" filter="url(#bl)"/>
<rect x="386.9" y="185.8" width="84.2" height="12.9" rx="2.5" fill="url(#fb)" stroke="#1b5f94" stroke-width="0.7"/>
<text class="f" x="429.9" y="195.7" transform="rotate(0.03 429.0 195.7)">V6</text>
<rect x="50.7" y="255.9" width="82.8" height="12.9" rx="2.5" fill="#405870" fill-opacity="0.35" filter="url(#bl)"/>
<rect x="50.0" y="254.9" width="82.8" height="12.9" rx="2.5" fill="url(#fb)" stroke="#1b5f94" stroke-width="0.7"/>
<text class="f" x="92.3" y="264.8" transform="rotate(0.03 91.4 264.8)">V7</text>
<rect x="233.7" y="255.9" width="75.5" height="12.9" rx="2.5" fill="#405870" fill-opacity="0.35" filter="url(#bl)"/>
<rect x="233.0" y="254.9" width="75.5" height="12.9" rx="2.5" fill="url(#fb)" stroke="#1b5f94" stroke-width="0.7"/>
<text class="f" x="271.6" y="264.8" transform="rotate(0.03 270.7 264.8)">V8</text>
<rect x="512.4" y="255.9" width="23.2" height="12.9" rx="2.5" fill="#405870" fill-opacity="0.35" filter="url(#bl)"/>
<rect x="511.7" y="254.9" width="23.2" height="12.9" rx="2.5" fill="url(#fb)" stroke="#1b5f94" stroke-width="0.7"/>
<text class="f" x="524.3" y="264.8" transform="rotate(0.03 523.4 264.8)">V9</text>
<rect class="a" x="489.3" y="282.2" width="11" height="13.2"/>
<text x="494.8" y="293.4" font-size="12.5" text-anchor="middle" fill="#000" stroke="#000" stroke-width="0.25" transform="rotate(0.03 494.8 293.4)">A</text>
<rect class="c" x="500.2" y="282.2" width="11" height="13.2"/>
<text x="505.6" y="293.4" font-size="12.5" text-anchor="middle" fill="#000" stroke="#000" stroke-width="0.25" transform="rotate(0.03 505.6 293.4)">C</text>
<rect class="g" x="511.1" y="282.2" width="11" height="13.2"/>
<text x="516.6" y="293.4" font-size="12.5" text-anchor="middle" fill="#000" stroke="#000" stroke-width="0.25" transform="rotate(0.03 516.6 293.4)">G</text>
<rect class="t" x="522.0" y="282.2" width="11" height="13.2"/>
<text x="527.5" y="293.4" font-size="12.5" text-anchor="middle" fill="#000" stroke="#000" stroke-width="0.25" transform="rotate(0.03 527.5 293.4)">T</text>
<path d="M11.0 33.3Q11.0 31.8 12.5 31.8L24.6 31.8L38.3 45.8L12.5 45.8Q11.0 45.8 11.0 44.3Z" fill="url(#gt)" stroke="#0e9494" stroke-width="0.4" stroke-opacity="0.7"/>
<text class="p" x="20.3" y="30.9" fill="#1f9b9b" stroke="#1f9b9b" textLength="35.6" lengthAdjust="spacingAndGlyphs" transform="rotate(0.03 20.3 30.9)">V1–V2 F</text>
<rect x="31.3" y="30.4" width="0.8" height="7.0" fill="#1f9b9b"/>
<path d="M142.9 33.4Q142.9 31.9 144.4 31.9L157.4 31.9L171.5 45.3L144.4 45.3Q142.9 45.3 142.9 43.8Z" fill="url(#gp)" stroke="#5a50c4" stroke-width="0.4" stroke-opacity="0.7"/>
<text class="p" x="153.0" y="31.1" fill="#5d54b8" stroke="#5d54b8" textLength="36.2" lengthAdjust="spacingAndGlyphs" transform="rotate(0.03 153.0 31.1)">V2–V3 F</text>
<rect x="165.1" y="31.4" width="0.8" height="6.2" fill="#5d54b8"/>
<path d="M487.0 45.4L501.0 32.7L512.1 32.7Q513.6 32.7 513.6 34.2L513.6 43.9Q513.6 45.4 512.1 45.4Z" fill="url(#gt)" stroke="#0e9494" stroke-width="0.4" stroke-opacity="0.7"/>
<text class="p" x="495.6" y="31.0" fill="#1f9b9b" stroke="#1f9b9b" textLength="36.8" lengthAdjust="spacingAndGlyphs" transform="rotate(0.03 495.6 31.0)">V1–V2 R</text>
<rect x="506.5" y="31.6" width="1" height="7.4" fill="#fff" fill-opacity="0.75"/>
<path d="M491.0 49.4Q491.0 47.9 492.5 47.9L501.0 47.9L515.6 61.4L492.5 61.4Q491.0 61.4 491.0 59.9Z" fill="url(#gm)" stroke="#c456c4" stroke-width="0.4" stroke-opacity="0.7"/>
<text class="p" x="450.4" y="58.0" fill="#b455b4" stroke="#b455b4" textLength="36.0" lengthAdjust="spacingAndGlyphs" transform="rotate(0.03 450.4 58.0)">V3–V4 F</text>
<rect x="488.3" y="53.3" width="1.3" height="0.9" fill="#b455b4"/>
<path d="M215.5 114.4L228.6 101.2L237.7 101.2Q239.2 101.2 239.2 102.7L239.2 112.9Q239.2 114.4 237.7 114.4Z" fill="url(#gp)" stroke="#5a50c4" stroke-width="0.4" stroke-opacity="0.7"/>
<text class="p" x="223.2" y="100.3" fill="#5d54b8" stroke="#5d54b8" textLength="36.6" lengthAdjust="spacingAndGlyphs" transform="rotate(0.03 223.2 100.3)">V2–V3 R</text>
<rect x="231.9" y="100.6" width="1" height="7.9" fill="#fff" fill-opacity="0.75"/>
<path d="M75.9 172.1Q75.9 170.6 77.4 170.6L90.3 170.6L103.4 183.8L77.4 183.8Q75.9 183.8 75.9 182.3Z" fill="url(#gg)" stroke="#7ab400" stroke-width="0.4" stroke-opacity="0.7"/>
<text class="p" x="85.3" y="169.8" fill="#6b9a1e" stroke="#6b9a1e" textLength="36.5" lengthAdjust="spacingAndGlyphs" transform="rotate(0.03 85.3 169.8)">V5–V7 F</text>
<rect x="96.5" y="169.8" width="0.8" height="7.2" fill="#6b9a1e"/>
<path d="M82.0 199.1L96.2 185.9L111.1 185.9Q112.6 185.9 112.6 187.4L112.6 197.6Q112.6 199.1 111.1 199.1Z" fill="url(#gm)" stroke="#c456c4" stroke-width="0.4" stroke-opacity="0.7"/>
<text class="p" x="39.5" y="196.5" fill="#b455b4" stroke="#b455b4" textLength="37.1" lengthAdjust="spacingAndGlyphs" transform="rotate(0.03 39.5 196.5)">V3–V4 R</text>
<rect x="78.8" y="192.1" width="1.3" height="0.9" fill="#b455b4"/>
<path d="M122.4 252.8L137.0 239.9L147.1 239.9Q148.6 239.9 148.6 241.4L148.6 251.3Q148.6 252.8 147.1 252.8Z" fill="url(#gg)" stroke="#7ab400" stroke-width="0.4" stroke-opacity="0.7"/>
<text class="p" x="131.9" y="238.9" fill="#6b9a1e" stroke="#6b9a1e" textLength="36.4" lengthAdjust="spacingAndGlyphs" transform="rotate(0.03 131.9 238.9)">V5–V7 R</text>
<rect x="141.6" y="239.6" width="1" height="7.3" fill="#fff" fill-opacity="0.75"/>
</svg></body></html>
